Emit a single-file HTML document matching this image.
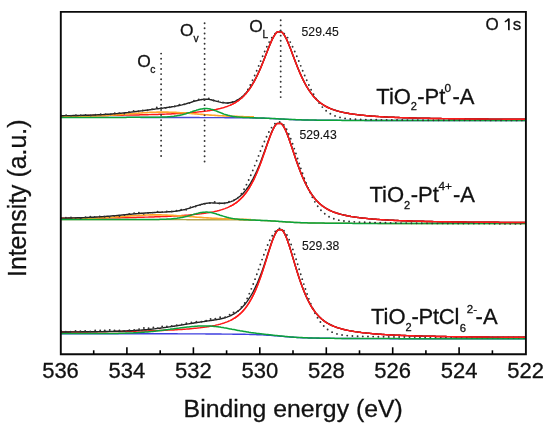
<!DOCTYPE html>
<html><head><meta charset="utf-8"><style>
html,body{margin:0;padding:0;background:#fff;overflow:hidden;}
svg{display:block;will-change:transform;font-family:"Liberation Sans",sans-serif;}
text{fill:#111;stroke:#111;stroke-width:0.3px;}
</style></head><body>
<svg width="550" height="428" viewBox="0 0 550 428">
<path d="M61,117.4 L62,117.4 L63,117.4 L64,117.4 L65,117.4 L66,117.4 L67,117.4 L68,117.4 L69,117.4 L70,117.4 L71,117.4 L72,117.4 L73,117.4 L74,117.4 L75,117.4 L76,117.4 L77,117.4 L78,117.4 L79,117.4 L80,117.4 L81,117.4 L82,117.4 L83,117.4 L84,117.4 L85,117.4 L86,117.4 L87,117.4 L88,117.4 L89,117.4 L90,117.4 L91,117.4 L92,117.4 L93,117.4 L94,117.4 L95,117.4 L96,117.4 L97,117.4 L98,117.4 L99,117.4 L100,117.4 L101,117.4 L102,117.4 L103,117.4 L104,117.4 L105,117.4 L106,117.4 L107,117.4 L108,117.4 L109,117.4 L110,117.4 L111,117.4 L112,117.4 L113,117.4 L114,117.4 L115,117.4 L116,117.4 L117,117.4 L118,117.4 L119,117.4 L120,117.4 L121,117.4 L122,117.4 L123,117.4 L124,117.4 L125,117.4 L126,117.4 L127,117.4 L128,117.4 L129,117.4 L130,117.4 L131,117.4 L132,117.4 L133,117.4 L134,117.4 L135,117.4 L136,117.4 L137,117.4 L138,117.4 L139,117.4 L140,117.4 L141,117.5 L142,117.5 L143,117.5 L144,117.5 L145,117.5 L146,117.5 L147,117.5 L148,117.5 L149,117.5 L150,117.5 L151,117.5 L152,117.5 L153,117.5 L154,117.5 L155,117.5 L156,117.5 L157,117.5 L158,117.5 L159,117.5 L160,117.5 L161,117.5 L162,117.5 L163,117.5 L164,117.5 L165,117.5 L166,117.5 L167,117.5 L168,117.5 L169,117.5 L170,117.5 L171,117.5 L172,117.5 L173,117.5 L174,117.5 L175,117.5 L176,117.5 L177,117.5 L178,117.5 L179,117.5 L180,117.5 L181,117.5 L182,117.5 L183,117.5 L184,117.5 L185,117.5 L186,117.5 L187,117.5 L188,117.5 L189,117.5 L190,117.5 L191,117.5 L192,117.5 L193,117.5 L194,117.5 L195,117.5 L196,117.5 L197,117.5 L198,117.5 L199,117.5 L200,117.6 L201,117.6 L202,117.6 L203,117.6 L204,117.6 L205,117.6 L206,117.6 L207,117.6 L208,117.6 L209,117.6 L210,117.6 L211,117.6 L212,117.6 L213,117.6 L214,117.6 L215,117.6 L216,117.6 L217,117.6 L218,117.6 L219,117.6 L220,117.6 L221,117.6 L222,117.6 L223,117.6 L224,117.6 L225,117.7 L226,117.7 L227,117.7 L228,117.7 L229,117.7 L230,117.7 L231,117.7 L232,117.7 L233,117.7 L234,117.7 L235,117.7 L236,117.7 L237,117.7 L238,117.7 L239,117.8 L240,117.8 L241,117.8 L242,117.8 L243,117.8 L244,117.8 L245,117.8 L246,117.8 L247,117.9 L248,117.9 L249,117.9 L250,117.9 L251,117.9 L252,117.9 L253,118.0 L254,118.0 L255,118.0 L256,118.0 L257,118.0 L258,118.1 L259,118.1 L260,118.1 L261,118.2 L262,118.2 L263,118.2 L264,118.3 L265,118.3 L266,118.3 L267,118.4 L268,118.4 L269,118.4 L270,118.5 L271,118.5 L272,118.6 L273,118.6 L274,118.7 L275,118.7 L276,118.8 L277,118.8 L278,118.9 L279,118.9 L280,119.0 L281,119.0 L282,119.1 L283,119.1 L284,119.2 L285,119.3 L286,119.3 L287,119.4 L288,119.4 L289,119.4 L290,119.5 L291,119.5 L292,119.6 L293,119.6 L294,119.7 L295,119.7 L296,119.7 L297,119.8 L298,119.8 L299,119.8 L300,119.9 L301,119.9 L302,119.9 L303,119.9 L304,120.0 L305,120.0 L306,120.0 L307,120.0 L308,120.0 L309,120.1 L310,120.1 L311,120.1 L312,120.1 L313,120.1 L314,120.1 L315,120.2 L316,120.2 L317,120.2 L318,120.2 L319,120.2 L320,120.2 L321,120.2 L322,120.2 L323,120.2 L324,120.3 L325,120.3 L326,120.3 L327,120.3 L328,120.3 L329,120.3 L330,120.3 L331,120.3 L332,120.3 L333,120.3 L334,120.3 L335,120.3 L336,120.3 L337,120.3 L338,120.4 L339,120.4 L340,120.4 L341,120.4 L342,120.4 L343,120.4 L344,120.4 L345,120.4 L346,120.4 L347,120.4 L348,120.4 L349,120.4 L350,120.4 L351,120.4 L352,120.4 L353,120.4 L354,120.4 L355,120.4 L356,120.4 L357,120.4 L358,120.4 L359,120.4 L360,120.4 L361,120.4 L362,120.4 L363,120.4 L364,120.4 L365,120.5 L366,120.5 L367,120.5 L368,120.5 L369,120.5 L370,120.5 L371,120.5 L372,120.5 L373,120.5 L374,120.5 L375,120.5 L376,120.5 L377,120.5 L378,120.5 L379,120.5 L380,120.5 L381,120.5 L382,120.5 L383,120.5 L384,120.5 L385,120.5 L386,120.5 L387,120.5 L388,120.5 L389,120.5 L390,120.5 L391,120.5 L392,120.5 L393,120.5 L394,120.5 L395,120.5 L396,120.5 L397,120.5 L398,120.5 L399,120.5 L400,120.5 L401,120.5 L402,120.5 L403,120.5 L404,120.5 L405,120.5 L406,120.5 L407,120.5 L408,120.5 L409,120.5 L410,120.5 L411,120.5 L412,120.5 L413,120.5 L414,120.5 L415,120.5 L416,120.5 L417,120.5 L418,120.5 L419,120.5 L420,120.5 L421,120.5 L422,120.5 L423,120.5 L424,120.5 L425,120.5 L426,120.5 L427,120.5 L428,120.5 L429,120.5 L430,120.5 L431,120.6 L432,120.6 L433,120.6 L434,120.6 L435,120.6 L436,120.6 L437,120.6 L438,120.6 L439,120.6 L440,120.6 L441,120.6 L442,120.6 L443,120.6 L444,120.6 L445,120.6 L446,120.6 L447,120.6 L448,120.6 L449,120.6 L450,120.6 L451,120.6 L452,120.6 L453,120.6 L454,120.6 L455,120.6 L456,120.6 L457,120.6 L458,120.6 L459,120.6 L460,120.6 L461,120.6 L462,120.6 L463,120.6 L464,120.6 L465,120.6 L466,120.6 L467,120.6 L468,120.6 L469,120.6 L470,120.6 L471,120.6 L472,120.6 L473,120.6 L474,120.6 L475,120.6 L476,120.6 L477,120.6 L478,120.6 L479,120.6 L480,120.6 L481,120.6 L482,120.6 L483,120.6 L484,120.6 L485,120.6 L486,120.6 L487,120.6 L488,120.6 L489,120.6 L490,120.6 L491,120.6 L492,120.6 L493,120.6 L494,120.6 L495,120.6 L496,120.6 L497,120.6 L498,120.6 L499,120.6 L500,120.6 L501,120.6 L502,120.6 L503,120.6 L504,120.6 L505,120.6 L506,120.6 L507,120.6 L508,120.6 L509,120.6 L510,120.6 L511,120.6 L512,120.6 L513,120.6 L514,120.6 L515,120.6 L516,120.6 L517,120.6 L518,120.6 L519,120.6 L520,120.6 L521,120.6 L522,120.6 L523,120.6 L524,120.6 L525,120.6" stroke="#4b4bd6" stroke-width="1.4" fill="none"/>
<path d="M61,115.7 L62,115.7 L63,115.7 L64,115.7 L65,115.7 L66,115.7 L67,115.7 L68,115.7 L69,115.7 L70,115.7 L71,115.7 L72,115.7 L73,115.7 L74,115.7 L75,115.6 L76,115.6 L77,115.6 L78,115.6 L79,115.6 L80,115.6 L81,115.6 L82,115.6 L83,115.6 L84,115.6 L85,115.6 L86,115.6 L87,115.6 L88,115.5 L89,115.5 L90,115.5 L91,115.5 L92,115.5 L93,115.5 L94,115.5 L95,115.5 L96,115.5 L97,115.5 L98,115.5 L99,115.4 L100,115.4 L101,115.4 L102,115.4 L103,115.4 L104,115.4 L105,115.4 L106,115.4 L107,115.4 L108,115.4 L109,115.3 L110,115.3 L111,115.3 L112,115.3 L113,115.3 L114,115.3 L115,115.3 L116,115.3 L117,115.2 L118,115.2 L119,115.2 L120,115.2 L121,115.2 L122,115.2 L123,115.2 L124,115.1 L125,115.1 L126,115.1 L127,115.1 L128,115.1 L129,115.1 L130,115.0 L131,115.0 L132,115.0 L133,115.0 L134,115.0 L135,114.9 L136,114.9 L137,114.9 L138,114.9 L139,114.9 L140,114.8 L141,114.8 L142,114.8 L143,114.8 L144,114.8 L145,114.7 L146,114.7 L147,114.7 L148,114.7 L149,114.6 L150,114.6 L151,114.6 L152,114.5 L153,114.5 L154,114.5 L155,114.5 L156,114.4 L157,114.4 L158,114.4 L159,114.3 L160,114.3 L161,114.3 L162,114.2 L163,114.2 L164,114.2 L165,114.1 L166,114.1 L167,114.0 L168,114.0 L169,114.0 L170,113.9 L171,113.9 L172,113.8 L173,113.8 L174,113.7 L175,113.7 L176,113.6 L177,113.6 L178,113.5 L179,113.5 L180,113.4 L181,113.4 L182,113.3 L183,113.2 L184,113.2 L185,113.1 L186,113.0 L187,113.0 L188,112.9 L189,112.8 L190,112.7 L191,112.7 L192,112.6 L193,112.5 L194,112.4 L195,112.3 L196,112.2 L197,112.1 L198,112.0 L199,111.9 L200,111.8 L201,111.7 L202,111.6 L203,111.5 L204,111.4 L205,111.2 L206,111.1 L207,111.0 L208,110.8 L209,110.7 L210,110.5 L211,110.4 L212,110.2 L213,110.0 L214,109.8 L215,109.7 L216,109.5 L217,109.2 L218,109.0 L219,108.8 L220,108.6 L221,108.3 L222,108.0 L223,107.8 L224,107.5 L225,107.1 L226,106.8 L227,106.5 L228,106.1 L229,105.7 L230,105.3 L231,104.8 L232,104.4 L233,103.9 L234,103.3 L235,102.8 L236,102.2 L237,101.5 L238,100.8 L239,100.1 L240,99.3 L241,98.5 L242,97.6 L243,96.7 L244,95.7 L245,94.6 L246,93.5 L247,92.3 L248,91.0 L249,89.7 L250,88.3 L251,86.8 L252,85.2 L253,83.5 L254,81.8 L255,79.9 L256,78.0 L257,76.0 L258,73.9 L259,71.7 L260,69.5 L261,67.1 L262,64.7 L263,62.2 L264,59.7 L265,57.2 L266,54.6 L267,52.0 L268,49.4 L269,46.9 L270,44.5 L271,42.1 L272,39.9 L273,37.9 L274,36.1 L275,34.5 L276,33.2 L277,32.2 L278,31.8 L279,31.8 L280,31.8 L281,31.8 L282,32.3 L283,33.4 L284,34.7 L285,36.4 L286,38.2 L287,40.3 L288,42.6 L289,45.0 L290,47.5 L291,50.1 L292,52.8 L293,55.4 L294,58.1 L295,60.7 L296,63.3 L297,65.9 L298,68.4 L299,70.8 L300,73.1 L301,75.4 L302,77.6 L303,79.6 L304,81.6 L305,83.5 L306,85.3 L307,87.1 L308,88.7 L309,90.3 L310,91.7 L311,93.1 L312,94.4 L313,95.7 L314,96.9 L315,98.0 L316,99.0 L317,100.0 L318,100.9 L319,101.7 L320,102.6 L321,103.3 L322,104.0 L323,104.7 L324,105.3 L325,105.9 L326,106.5 L327,107.0 L328,107.5 L329,108.0 L330,108.4 L331,108.8 L332,109.2 L333,109.6 L334,109.9 L335,110.2 L336,110.6 L337,110.9 L338,111.1 L339,111.4 L340,111.7 L341,111.9 L342,112.1 L343,112.4 L344,112.6 L345,112.8 L346,113.0 L347,113.1 L348,113.3 L349,113.5 L350,113.7 L351,113.8 L352,114.0 L353,114.1 L354,114.2 L355,114.4 L356,114.5 L357,114.6 L358,114.8 L359,114.9 L360,115.0 L361,115.1 L362,115.2 L363,115.3 L364,115.4 L365,115.5 L366,115.6 L367,115.7 L368,115.8 L369,115.9 L370,115.9 L371,116.0 L372,116.1 L373,116.2 L374,116.2 L375,116.3 L376,116.4 L377,116.4 L378,116.5 L379,116.6 L380,116.6 L381,116.7 L382,116.7 L383,116.8 L384,116.9 L385,116.9 L386,117.0 L387,117.0 L388,117.1 L389,117.1 L390,117.2 L391,117.2 L392,117.2 L393,117.3 L394,117.3 L395,117.4 L396,117.4 L397,117.5 L398,117.5 L399,117.5 L400,117.6 L401,117.6 L402,117.6 L403,117.7 L404,117.7 L405,117.7 L406,117.8 L407,117.8 L408,117.8 L409,117.9 L410,117.9 L411,117.9 L412,117.9 L413,118.0 L414,118.0 L415,118.0 L416,118.0 L417,118.1 L418,118.1 L419,118.1 L420,118.1 L421,118.2 L422,118.2 L423,118.2 L424,118.2 L425,118.3 L426,118.3 L427,118.3 L428,118.3 L429,118.3 L430,118.4 L431,118.4 L432,118.4 L433,118.4 L434,118.4 L435,118.4 L436,118.5 L437,118.5 L438,118.5 L439,118.5 L440,118.5 L441,118.5 L442,118.6 L443,118.6 L444,118.6 L445,118.6 L446,118.6 L447,118.6 L448,118.6 L449,118.7 L450,118.7 L451,118.7 L452,118.7 L453,118.7 L454,118.7 L455,118.7 L456,118.7 L457,118.8 L458,118.8 L459,118.8 L460,118.8 L461,118.8 L462,118.8 L463,118.8 L464,118.8 L465,118.9 L466,118.9 L467,118.9 L468,118.9 L469,118.9 L470,118.9 L471,118.9 L472,118.9 L473,118.9 L474,118.9 L475,118.9 L476,119.0 L477,119.0 L478,119.0 L479,119.0 L480,119.0 L481,119.0 L482,119.0 L483,119.0 L484,119.0 L485,119.0 L486,119.0 L487,119.0 L488,119.1 L489,119.1 L490,119.1 L491,119.1 L492,119.1 L493,119.1 L494,119.1 L495,119.1 L496,119.1 L497,119.1 L498,119.1 L499,119.1 L500,119.1 L501,119.1 L502,119.1 L503,119.2 L504,119.2 L505,119.2 L506,119.2 L507,119.2 L508,119.2 L509,119.2 L510,119.2 L511,119.2 L512,119.2 L513,119.2 L514,119.2 L515,119.2 L516,119.2 L517,119.2 L518,119.2 L519,119.2 L520,119.2 L521,119.3 L522,119.3 L523,119.3 L524,119.3 L525,119.3" stroke="#ff1a1a" stroke-width="1.45" fill="none"/>
<path d="M61,116.4 L62,116.4 L63,116.4 L64,116.4 L65,116.4 L66,116.4 L67,116.3 L68,116.3 L69,116.3 L70,116.3 L71,116.3 L72,116.3 L73,116.3 L74,116.3 L75,116.3 L76,116.3 L77,116.3 L78,116.3 L79,116.3 L80,116.2 L81,116.2 L82,116.2 L83,116.2 L84,116.2 L85,116.2 L86,116.2 L87,116.1 L88,116.1 L89,116.1 L90,116.1 L91,116.0 L92,116.0 L93,116.0 L94,116.0 L95,115.9 L96,115.9 L97,115.9 L98,115.8 L99,115.8 L100,115.8 L101,115.7 L102,115.7 L103,115.6 L104,115.6 L105,115.5 L106,115.5 L107,115.4 L108,115.4 L109,115.3 L110,115.3 L111,115.2 L112,115.2 L113,115.1 L114,115.0 L115,115.0 L116,114.9 L117,114.8 L118,114.8 L119,114.7 L120,114.6 L121,114.5 L122,114.5 L123,114.4 L124,114.3 L125,114.2 L126,114.2 L127,114.1 L128,114.0 L129,113.9 L130,113.8 L131,113.8 L132,113.7 L133,113.6 L134,113.5 L135,113.4 L136,113.3 L137,113.3 L138,113.2 L139,113.1 L140,113.0 L141,113.0 L142,112.9 L143,112.8 L144,112.8 L145,112.7 L146,112.6 L147,112.6 L148,112.5 L149,112.5 L150,112.4 L151,112.4 L152,112.3 L153,112.3 L154,112.2 L155,112.2 L156,112.2 L157,112.1 L158,112.1 L159,112.1 L160,112.1 L161,112.1 L162,112.1 L163,112.1 L164,112.1 L165,112.1 L166,112.1 L167,112.1 L168,112.1 L169,112.2 L170,112.2 L171,112.2 L172,112.3 L173,112.3 L174,112.3 L175,112.4 L176,112.4 L177,112.5 L178,112.6 L179,112.6 L180,112.7 L181,112.7 L182,112.8 L183,112.9 L184,113.0 L185,113.0 L186,113.1 L187,113.2 L188,113.3 L189,113.3 L190,113.4 L191,113.5 L192,113.6 L193,113.7 L194,113.8 L195,113.9 L196,113.9 L197,114.0 L198,114.1 L199,114.2 L200,114.3 L201,114.4 L202,114.4 L203,114.5 L204,114.6 L205,114.7 L206,114.8 L207,114.8 L208,114.9 L209,115.0 L210,115.1 L211,115.1 L212,115.2 L213,115.3 L214,115.3 L215,115.4 L216,115.5 L217,115.5 L218,115.6 L219,115.7 L220,115.7 L221,115.8 L222,115.8 L223,115.9 L224,115.9 L225,116.0 L226,116.0 L227,116.1 L228,116.1 L229,116.2 L230,116.2 L231,116.2 L232,116.3 L233,116.3 L234,116.3 L235,116.4 L236,116.4 L237,116.4 L238,116.5 L239,116.5 L240,116.5 L241,116.6 L242,116.6 L243,116.6 L244,116.7 L245,116.7 L246,116.7 L247,116.7 L248,116.8 L249,116.8 L250,116.8 L251,116.8 L252,116.9 L253,116.9 L254,116.9" stroke="#ffa62b" stroke-width="1.6" fill="none"/>
<path d="M61,117.4 L62,117.4 L63,117.4 L64,117.4 L65,117.4 L66,117.4 L67,117.4 L68,117.4 L69,117.4 L70,117.4 L71,117.4 L72,117.4 L73,117.4 L74,117.4 L75,117.4 L76,117.4 L77,117.4 L78,117.4 L79,117.4 L80,117.4 L81,117.4 L82,117.4 L83,117.4 L84,117.4 L85,117.4 L86,117.4 L87,117.4 L88,117.4 L89,117.4 L90,117.4 L91,117.4 L92,117.4 L93,117.4 L94,117.4 L95,117.4 L96,117.4 L97,117.4 L98,117.4 L99,117.4 L100,117.4 L101,117.4 L102,117.4 L103,117.4 L104,117.4 L105,117.4 L106,117.4 L107,117.4 L108,117.4 L109,117.4 L110,117.4 L111,117.4 L112,117.4 L113,117.4 L114,117.4 L115,117.4 L116,117.4 L117,117.4 L118,117.4 L119,117.4 L120,117.4 L121,117.4 L122,117.4 L123,117.4 L124,117.4 L125,117.4 L126,117.4 L127,117.3 L128,117.3 L129,117.3 L130,117.3 L131,117.3 L132,117.3 L133,117.3 L134,117.3 L135,117.3 L136,117.3 L137,117.3 L138,117.3 L139,117.3 L140,117.3 L141,117.3 L142,117.3 L143,117.3 L144,117.3 L145,117.3 L146,117.3 L147,117.3 L148,117.3 L149,117.3 L150,117.3 L151,117.3 L152,117.3 L153,117.3 L154,117.3 L155,117.2 L156,117.2 L157,117.2 L158,117.2 L159,117.2 L160,117.2 L161,117.1 L162,117.1 L163,117.1 L164,117.0 L165,117.0 L166,116.9 L167,116.9 L168,116.8 L169,116.8 L170,116.7 L171,116.6 L172,116.5 L173,116.4 L174,116.3 L175,116.1 L176,116.0 L177,115.8 L178,115.6 L179,115.4 L180,115.2 L181,115.0 L182,114.8 L183,114.5 L184,114.2 L185,113.9 L186,113.7 L187,113.3 L188,113.0 L189,112.7 L190,112.4 L191,112.0 L192,111.7 L193,111.3 L194,111.0 L195,110.7 L196,110.4 L197,110.0 L198,109.8 L199,109.5 L200,109.3 L201,109.1 L202,108.9 L203,108.7 L204,108.6 L205,108.6 L206,108.6 L207,108.6 L208,108.7 L209,108.8 L210,109.0 L211,109.3 L212,109.5 L213,109.8 L214,110.2 L215,110.6 L216,110.9 L217,111.3 L218,111.7 L219,112.1 L220,112.5 L221,112.9 L222,113.3 L223,113.7 L224,114.1 L225,114.4 L226,114.7 L227,115.0 L228,115.3 L229,115.5 L230,115.8 L231,116.0 L232,116.2 L233,116.4 L234,116.5 L235,116.7 L236,116.8 L237,116.9 L238,117.0 L239,117.1 L240,117.2 L241,117.3 L242,117.3 L243,117.4 L244,117.4 L245,117.5 L246,117.5 L247,117.6 L248,117.6 L249,117.6 L250,117.7 L251,117.7 L252,117.7 L253,117.8 L254,117.8 L255,117.8 L256,117.9 L257,117.9 L258,117.9 L259,118.0 L260,118.0 L261,118.0 L262,118.1 L263,118.1 L264,118.1 L265,118.2 L266,118.2 L267,118.3 L268,118.3 L269,118.3 L270,118.4 L271,118.4 L272,118.5 L273,118.5 L274,118.6 L275,118.6 L276,118.7 L277,118.7 L278,118.8 L279,118.9 L280,118.9 L281,119.0 L282,119.0 L283,119.1 L284,119.1 L285,119.2 L286,119.2 L287,119.3 L288,119.3 L289,119.4 L290,119.4 L291,119.5 L292,119.5 L293,119.6 L294,119.6 L295,119.6 L296,119.7 L297,119.7 L298,119.7 L299,119.8 L300,119.8 L301,119.8 L302,119.9 L303,119.9 L304,119.9 L305,119.9 L306,120.0 L307,120.0 L308,120.0 L309,120.0 L310,120.0 L311,120.1 L312,120.1 L313,120.1 L314,120.1 L315,120.1 L316,120.1 L317,120.2 L318,120.2 L319,120.2 L320,120.2 L321,120.2 L322,120.2 L323,120.2 L324,120.2 L325,120.2 L326,120.2 L327,120.3 L328,120.3 L329,120.3 L330,120.3 L331,120.3 L332,120.3 L333,120.3 L334,120.3 L335,120.3 L336,120.3 L337,120.3 L338,120.3 L339,120.3 L340,120.3 L341,120.3 L342,120.4 L343,120.4 L344,120.4 L345,120.4 L346,120.4 L347,120.4 L348,120.4 L349,120.4 L350,120.4 L351,120.4 L352,120.4 L353,120.4 L354,120.4 L355,120.4 L356,120.4 L357,120.4 L358,120.4 L359,120.4 L360,120.4 L361,120.4 L362,120.4 L363,120.4 L364,120.4 L365,120.4 L366,120.4 L367,120.4 L368,120.4 L369,120.4 L370,120.4 L371,120.5 L372,120.5 L373,120.5 L374,120.5 L375,120.5 L376,120.5 L377,120.5 L378,120.5 L379,120.5 L380,120.5 L381,120.5 L382,120.5 L383,120.5 L384,120.5 L385,120.5 L386,120.5 L387,120.5 L388,120.5 L389,120.5 L390,120.5 L391,120.5 L392,120.5 L393,120.5 L394,120.5 L395,120.5 L396,120.5 L397,120.5 L398,120.5 L399,120.5 L400,120.5 L401,120.5 L402,120.5 L403,120.5 L404,120.5 L405,120.5 L406,120.5 L407,120.5 L408,120.5 L409,120.5 L410,120.5 L411,120.5 L412,120.5 L413,120.5 L414,120.5 L415,120.5 L416,120.5 L417,120.5 L418,120.5 L419,120.5 L420,120.5 L421,120.5 L422,120.5 L423,120.5 L424,120.5 L425,120.5 L426,120.5 L427,120.5 L428,120.5 L429,120.5 L430,120.5 L431,120.5 L432,120.5 L433,120.5 L434,120.5 L435,120.5 L436,120.5 L437,120.5 L438,120.5 L439,120.5 L440,120.5 L441,120.6 L442,120.6 L443,120.6 L444,120.6 L445,120.6 L446,120.6 L447,120.6 L448,120.6 L449,120.6 L450,120.6 L451,120.6 L452,120.6 L453,120.6 L454,120.6 L455,120.6 L456,120.6 L457,120.6 L458,120.6 L459,120.6 L460,120.6 L461,120.6 L462,120.6 L463,120.6 L464,120.6 L465,120.6 L466,120.6 L467,120.6 L468,120.6 L469,120.6 L470,120.6 L471,120.6 L472,120.6 L473,120.6 L474,120.6 L475,120.6 L476,120.6 L477,120.6 L478,120.6 L479,120.6 L480,120.6 L481,120.6 L482,120.6 L483,120.6 L484,120.6 L485,120.6 L486,120.6 L487,120.6 L488,120.6 L489,120.6 L490,120.6 L491,120.6 L492,120.6 L493,120.6 L494,120.6 L495,120.6 L496,120.6 L497,120.6 L498,120.6 L499,120.6 L500,120.6 L501,120.6 L502,120.6 L503,120.6 L504,120.6 L505,120.6 L506,120.6 L507,120.6 L508,120.6 L509,120.6 L510,120.6 L511,120.6 L512,120.6 L513,120.6 L514,120.6 L515,120.6 L516,120.6 L517,120.6 L518,120.6 L519,120.6 L520,120.6 L521,120.6 L522,120.6 L523,120.6 L524,120.6 L525,120.6" stroke="#0ba33a" stroke-width="1.5" fill="none"/>
<path d="M61,115.7 L62,115.7 L63,115.7 L64,115.6 L65,115.6 L66,115.6 L67,115.6 L68,115.6 L69,115.6 L70,115.6 L71,115.6 L72,115.6 L73,115.5 L74,115.5 L75,115.5 L76,115.5 L77,115.5 L78,115.5 L79,115.4 L80,115.4 L81,115.4 L82,115.4 L83,115.3 L84,115.3 L85,115.3 L86,115.3 L87,115.2 L88,115.2 L89,115.2 L90,115.1 L91,115.1 L92,115.1 L93,115.0 L94,115.0 L95,115.0 L96,114.9 L97,114.9 L98,114.8 L99,114.8 L100,114.7 L101,114.7 L102,114.6 L103,114.6 L104,114.5 L105,114.5 L106,114.4 L107,114.3 L108,114.3 L109,114.2 L110,114.1 L111,114.0 L112,114.0 L113,113.9 L114,113.8 L115,113.7 L116,113.6 L117,113.6 L118,113.5 L119,113.4 L120,113.3 L121,113.2 L122,113.1 L123,113.0 L124,112.9 L125,112.8 L126,112.7 L127,112.6 L128,112.5 L129,112.3 L130,112.2 L131,112.1 L132,112.0 L133,111.9 L134,111.8 L135,111.6 L136,111.5 L137,111.4 L138,111.3 L139,111.1 L140,111.0 L141,110.9 L142,110.8 L143,110.6 L144,110.5 L145,110.4 L146,110.2 L147,110.1 L148,110.0 L149,109.9 L150,109.7 L151,109.6 L152,109.5 L153,109.3 L154,109.2 L155,109.1 L156,108.9 L157,108.8 L158,108.7 L159,108.6 L160,108.4 L161,108.3 L162,108.2 L163,108.1 L164,107.9 L165,107.8 L166,107.7 L167,107.5 L168,107.4 L169,107.2 L170,107.1 L171,107.0 L172,106.8 L173,106.6 L174,106.5 L175,106.3 L176,106.1 L177,105.9 L178,105.7 L179,105.5 L180,105.3 L181,105.1 L182,104.9 L183,104.6 L184,104.3 L185,104.1 L186,103.8 L187,103.5 L188,103.2 L189,102.9 L190,102.6 L191,102.3 L192,102.0 L193,101.7 L194,101.4 L195,101.1 L196,100.8 L197,100.6 L198,100.3 L199,100.1 L200,99.9 L201,99.7 L202,99.5 L203,99.4 L204,99.3 L205,99.3 L206,99.2 L207,99.3 L208,99.3 L209,99.4 L210,99.6 L211,99.8 L212,100.0 L213,100.3 L214,100.5 L215,100.8 L216,101.1 L217,101.4 L218,101.6 L219,101.9 L220,102.1 L221,102.4 L222,102.6 L223,102.7 L224,102.8 L225,102.9 L226,103.0 L227,103.0 L228,102.9 L229,102.8 L230,102.7 L231,102.5 L232,102.3 L233,102.0 L234,101.7 L235,101.3 L236,100.8 L237,100.3 L238,99.7 L239,99.1 L240,98.4 L241,97.7 L242,96.9 L243,96.0 L244,95.1 L245,94.1 L246,93.0 L247,91.8 L248,90.6 L249,89.3 L250,87.9 L251,86.4 L252,84.9 L253,83.2 L254,81.5 L255,79.7 L256,77.8 L257,75.8 L258,73.7 L259,71.5 L260,69.3 L261,66.9 L262,64.5 L263,62.1 L264,59.6 L265,57.0 L266,54.4 L267,51.9 L268,49.3 L269,46.8 L270,44.4 L271,42.0 L272,39.8 L273,37.8 L274,36.0 L275,34.4 L276,33.1 L277,32.1 L278,31.7 L279,31.7 L280,31.7 L281,31.7 L282,32.3 L283,33.3 L284,34.7 L285,36.3 L286,38.2 L287,40.3 L288,42.5 L289,45.0 L290,47.5 L291,50.1 L292,52.7 L293,55.4 L294,58.0 L295,60.7 L296,63.3 L297,65.8 L298,68.3 L299,70.7 L300,73.1 L301,75.3 L302,77.5 L303,79.6 L304,81.6 L305,83.5 L306,85.3 L307,87.0 L308,88.7 L309,90.2 L310,91.7 L311,93.1 L312,94.4 L313,95.6 L314,96.8 L315,97.9 L316,99.0 L317,99.9 L318,100.8 L319,101.7 L320,102.5 L321,103.3 L322,104.0 L323,104.7 L324,105.3 L325,105.9 L326,106.5 L327,107.0 L328,107.5 L329,107.9 L330,108.4 L331,108.8 L332,109.2 L333,109.5 L334,109.9 L335,110.2 L336,110.5 L337,110.8 L338,111.1 L339,111.4 L340,111.6 L341,111.9 L342,112.1 L343,112.3 L344,112.5 L345,112.7 L346,112.9 L347,113.1 L348,113.3 L349,113.5 L350,113.6 L351,113.8 L352,113.9 L353,114.1 L354,114.2 L355,114.4 L356,114.5 L357,114.6 L358,114.7 L359,114.9 L360,115.0 L361,115.1 L362,115.2 L363,115.3 L364,115.4 L365,115.5 L366,115.6 L367,115.7 L368,115.8 L369,115.8 L370,115.9 L371,116.0 L372,116.1 L373,116.2 L374,116.2 L375,116.3 L376,116.4 L377,116.4 L378,116.5 L379,116.6 L380,116.6 L381,116.7 L382,116.7 L383,116.8 L384,116.8 L385,116.9 L386,117.0 L387,117.0 L388,117.1 L389,117.1 L390,117.1 L391,117.2 L392,117.2 L393,117.3 L394,117.3 L395,117.4 L396,117.4 L397,117.4 L398,117.5 L399,117.5 L400,117.6 L401,117.6 L402,117.6 L403,117.7 L404,117.7 L405,117.7 L406,117.8 L407,117.8 L408,117.8 L409,117.8 L410,117.9 L411,117.9 L412,117.9 L413,118.0 L414,118.0 L415,118.0 L416,118.0 L417,118.1 L418,118.1 L419,118.1 L420,118.1 L421,118.2 L422,118.2 L423,118.2 L424,118.2 L425,118.2 L426,118.3 L427,118.3 L428,118.3 L429,118.3 L430,118.3 L431,118.4 L432,118.4 L433,118.4 L434,118.4 L435,118.4 L436,118.5 L437,118.5 L438,118.5 L439,118.5 L440,118.5 L441,118.5 L442,118.6 L443,118.6 L444,118.6 L445,118.6 L446,118.6 L447,118.6 L448,118.6 L449,118.7 L450,118.7 L451,118.7 L452,118.7 L453,118.7 L454,118.7 L455,118.7 L456,118.7 L457,118.8 L458,118.8 L459,118.8 L460,118.8 L461,118.8 L462,118.8 L463,118.8 L464,118.8 L465,118.8 L466,118.9 L467,118.9 L468,118.9 L469,118.9 L470,118.9 L471,118.9 L472,118.9 L473,118.9 L474,118.9 L475,118.9 L476,118.9 L477,119.0 L478,119.0 L479,119.0 L480,119.0 L481,119.0 L482,119.0 L483,119.0 L484,119.0 L485,119.0 L486,119.0 L487,119.0 L488,119.0 L489,119.1 L490,119.1 L491,119.1 L492,119.1 L493,119.1 L494,119.1 L495,119.1 L496,119.1 L497,119.1 L498,119.1 L499,119.1 L500,119.1 L501,119.1 L502,119.1 L503,119.1 L504,119.2 L505,119.2 L506,119.2 L507,119.2 L508,119.2 L509,119.2 L510,119.2 L511,119.2 L512,119.2 L513,119.2 L514,119.2 L515,119.2 L516,119.2 L517,119.2 L518,119.2 L519,119.2 L520,119.2 L521,119.2 L522,119.3 L523,119.3 L524,119.3 L525,119.3" stroke="#222" stroke-width="1.4" fill="none"/>
<path d="M61,115.5 L62,115.5 L63,115.3 L64,115.4 L65,115.1 L66,115.1 L67,115.7 L68,115.7 L69,115.9 L70,115.4 L71,115.6 L72,115.3 L73,114.9 L74,115.3 L75,115.5 L76,115.2 L77,114.9 L78,114.8 L79,115.1 L80,114.8 L81,115.4 L82,116.1 L83,116.0 L84,115.7 L85,115.1 L86,114.9 L87,115.0 L88,115.2 L89,115.3 L90,115.4 L91,115.4 L92,115.8 L93,115.6 L94,115.2 L95,114.7 L96,114.7 L97,114.4 L98,114.1 L99,113.8 L100,114.1 L101,114.3 L102,114.4 L103,114.8 L104,114.7 L105,114.6 L106,113.9 L107,114.3 L108,114.9 L109,114.8 L110,114.5 L111,114.1 L112,113.8 L113,113.1 L114,112.4 L115,113.4 L116,114.0 L117,114.4 L118,113.5 L119,113.2 L120,113.6 L121,113.3 L122,113.4 L123,113.5 L124,113.5 L125,113.3 L126,112.4 L127,112.1 L128,111.9 L129,112.3 L130,112.4 L131,112.4 L132,111.5 L133,110.8 L134,111.0 L135,110.8 L136,111.2 L137,110.6 L138,111.4 L139,111.0 L140,111.3 L141,110.1 L142,110.6 L143,110.5 L144,111.1 L145,110.8 L146,110.4 L147,110.5 L148,110.1 L149,110.7 L150,110.1 L151,110.1 L152,109.1 L153,109.1 L154,108.8 L155,108.6 L156,107.9 L157,107.4 L158,106.9 L159,107.4 L160,108.4 L161,108.2 L162,108.0 L163,106.9 L164,107.5 L165,107.3 L166,108.5 L167,108.0 L168,108.3 L169,107.2 L170,107.2 L171,106.9 L172,106.5 L173,106.7 L174,106.2 L175,106.5 L176,106.3 L177,105.7 L178,105.1 L179,104.7 L180,104.9 L181,105.0 L182,104.9 L183,104.7 L184,104.5 L185,104.2 L186,103.8 L187,103.5 L188,103.2 L189,103.3 L190,102.6 L191,102.2 L192,101.5 L193,101.4 L194,100.6 L195,100.6 L196,100.2 L197,100.4 L198,99.6 L199,99.5 L200,99.5 L201,99.9 L202,99.7 L203,99.7 L204,99.5 L205,99.4 L206,99.2 L207,98.6 L208,98.4 L209,98.6 L210,99.3 L211,99.8 L212,100.0 L213,100.5 L214,100.5 L215,100.9 L216,100.2 L217,100.6 L218,100.9 L219,101.7 L220,101.9 L221,102.5 L222,102.3 L223,102.4 L224,102.0 L225,102.2 L226,102.9 L227,102.9 L228,103.2 L229,103.0 L230,103.2 L231,103.0 L232,102.5 L233,101.7 L234,101.3 L235,101.1 L236,101.0 L237,100.2 L238,99.6 L239,98.6 L240,98.1 L241,98.0 L242,97.2 L243,96.9 L244,95.1 L245,94.6 L246,93.0 L247,91.2 L248,89.4 L249,87.6 L250,85.6 L251,83.5 L252,81.4 L253,79.2 L254,77.0 L255,74.7 L256,72.3 L257,70.0 L258,67.6 L259,65.1 L260,62.7 L261,60.3 L262,57.8 L263,55.5 L264,53.1 L265,50.8 L266,48.6 L267,46.4 L268,44.4 L269,42.4 L270,40.6 L271,38.9 L272,37.4 L273,36.0 L274,34.8 L275,33.7 L276,32.9 L277,32.0 L278,31.8 L279,31.6 L280,31.5 L281,31.7 L282,32.1 L283,32.6 L284,33.4 L285,34.3 L286,35.5 L287,36.8 L288,38.2 L289,39.8 L290,41.6 L291,43.5 L292,45.5 L293,47.6 L294,49.7 L295,52.0 L296,54.3 L297,56.7 L298,59.1 L299,61.6 L300,64.1 L301,66.5 L302,69.0 L303,71.4 L304,73.9 L305,76.2 L306,78.6 L307,80.9 L308,83.1 L309,85.3 L310,87.4 L311,89.5 L312,91.4 L313,93.3 L314,95.1 L315,96.9 L316,98.5 L317,100.1 L318,101.6 L319,103.0 L320,104.3 L321,105.5 L322,106.7 L323,107.8 L324,108.8 L325,109.7 L326,110.6 L327,111.4 L328,112.2 L329,112.8 L330,113.5 L331,114.1 L332,114.6 L333,115.1 L334,115.5 L335,115.9 L336,116.3 L337,116.6 L338,116.9 L339,117.2 L340,117.4 L341,117.7 L342,117.9 L343,118.1 L344,118.2 L345,118.4 L346,118.5 L347,118.6 L348,118.7 L349,118.8 L350,118.9 L351,119.0 L352,119.1 L353,119.1 L354,119.2 L355,119.2 L356,119.3 L357,119.3 L358,119.4 L359,119.4 L360,119.4 L361,119.5 L362,119.5 L363,119.5 L364,119.6 L365,119.6 L366,119.6 L367,119.6 L368,119.6 L369,119.7 L370,119.7 L371,119.7 L372,119.7 L373,119.7 L374,119.7 L375,119.8 L376,119.8 L377,119.8 L378,119.8 L379,119.8 L380,119.8 L381,119.8 L382,119.9 L383,119.9 L384,119.9 L385,119.9 L386,119.9 L387,119.9 L388,119.9 L389,119.9 L390,119.9 L391,119.9 L392,120.0 L393,120.0 L394,120.0 L395,120.0 L396,120.0 L397,120.0 L398,120.0 L399,120.0 L400,120.0 L401,120.0 L402,120.0 L403,120.0 L404,120.1 L405,120.1 L406,120.1 L407,120.1 L408,120.1 L409,120.1 L410,120.1 L411,120.1 L412,120.1 L413,120.1 L414,120.1 L415,120.1 L416,120.1 L417,120.1 L418,120.1 L419,120.1 L420,120.1 L421,120.2 L422,120.2 L423,120.2 L424,120.2 L425,120.2 L426,120.2 L427,120.2 L428,120.2 L429,120.2 L430,120.2 L431,120.2 L432,120.2 L433,120.2 L434,120.2 L435,120.2 L436,120.2 L437,120.2 L438,120.2 L439,120.2 L440,120.2 L441,120.2 L442,120.2 L443,120.2 L444,120.2 L445,120.2 L446,120.3 L447,120.3 L448,120.3 L449,120.3 L450,120.3 L451,120.3 L452,120.3 L453,120.3 L454,120.3 L455,120.3 L456,120.3 L457,120.3 L458,120.3 L459,120.3 L460,120.3 L461,120.3 L462,120.3 L463,120.3 L464,120.3 L465,120.3 L466,120.3 L467,120.3 L468,120.3 L469,120.3 L470,120.3 L471,120.3 L472,120.3 L473,120.3 L474,120.3 L475,120.3 L476,120.3 L477,120.3 L478,120.3 L479,120.3 L480,120.3 L481,120.3 L482,120.3 L483,120.3 L484,120.3 L485,120.3 L486,120.3 L487,120.4 L488,120.4 L489,120.4 L490,120.4 L491,120.4 L492,120.4 L493,120.4 L494,120.4 L495,120.4 L496,120.4 L497,120.4 L498,120.4 L499,120.4 L500,120.4 L501,120.4 L502,120.4 L503,120.4 L504,120.4 L505,120.4 L506,120.4 L507,120.4 L508,120.4 L509,120.4 L510,120.4 L511,120.4 L512,120.4 L513,120.4 L514,120.4 L515,120.4 L516,120.4 L517,120.4 L518,120.4 L519,120.4 L520,120.4 L521,120.4 L522,120.4 L523,120.4 L524,120.4 L525,120.4" stroke="#333" stroke-width="1.9" stroke-linecap="round" stroke-dasharray="0 5.2" fill="none"/>
<path d="M230,105.3 L231,104.8 L232,104.4 L233,103.9 L234,103.3 L235,102.8 L236,102.2 L237,101.5 L238,100.8 L239,100.1 L240,99.3 L241,98.5 L242,97.6 L243,96.7 L244,95.7 L245,94.6 L246,93.5 L247,92.3 L248,91.0 L249,89.7 L250,88.3 L251,86.8 L252,85.2 L253,83.5 L254,81.8 L255,79.9 L256,78.0 L257,76.0 L258,73.9 L259,71.7 L260,69.5 L261,67.1 L262,64.7 L263,62.2 L264,59.7 L265,57.2 L266,54.6 L267,52.0 L268,49.4 L269,46.9 L270,44.5 L271,42.1 L272,39.9 L273,37.9 L274,36.1 L275,34.5 L276,33.2 L277,32.2 L278,31.8 L279,31.8 L280,31.8 L281,31.8 L282,32.3 L283,33.4 L284,34.7 L285,36.4 L286,38.2 L287,40.3 L288,42.6 L289,45.0 L290,47.5 L291,50.1 L292,52.8 L293,55.4 L294,58.1 L295,60.7 L296,63.3 L297,65.9 L298,68.4 L299,70.8 L300,73.1 L301,75.4 L302,77.6 L303,79.6 L304,81.6 L305,83.5 L306,85.3 L307,87.1 L308,88.7 L309,90.3 L310,91.7 L311,93.1 L312,94.4 L313,95.7 L314,96.9 L315,98.0 L316,99.0 L317,100.0 L318,100.9 L319,101.7 L320,102.6 L321,103.3 L322,104.0 L323,104.7 L324,105.3 L325,105.9 L326,106.5 L327,107.0 L328,107.5 L329,108.0 L330,108.4 L331,108.8 L332,109.2 L333,109.6 L334,109.9 L335,110.2 L336,110.6 L337,110.9 L338,111.1 L339,111.4 L340,111.7 L341,111.9 L342,112.1 L343,112.4 L344,112.6 L345,112.8 L346,113.0 L347,113.1 L348,113.3 L349,113.5 L350,113.7 L351,113.8 L352,114.0 L353,114.1 L354,114.2 L355,114.4 L356,114.5 L357,114.6 L358,114.8 L359,114.9 L360,115.0 L361,115.1 L362,115.2 L363,115.3 L364,115.4 L365,115.5 L366,115.6 L367,115.7 L368,115.8 L369,115.9 L370,115.9 L371,116.0 L372,116.1 L373,116.2 L374,116.2 L375,116.3 L376,116.4 L377,116.4 L378,116.5 L379,116.6 L380,116.6 L381,116.7 L382,116.7 L383,116.8 L384,116.9 L385,116.9 L386,117.0 L387,117.0 L388,117.1 L389,117.1 L390,117.2 L391,117.2 L392,117.2 L393,117.3 L394,117.3 L395,117.4 L396,117.4 L397,117.5 L398,117.5 L399,117.5 L400,117.6 L401,117.6 L402,117.6 L403,117.7 L404,117.7 L405,117.7 L406,117.8 L407,117.8 L408,117.8 L409,117.9 L410,117.9 L411,117.9 L412,117.9 L413,118.0 L414,118.0 L415,118.0 L416,118.0 L417,118.1 L418,118.1 L419,118.1 L420,118.1 L421,118.2 L422,118.2 L423,118.2 L424,118.2 L425,118.3 L426,118.3 L427,118.3 L428,118.3 L429,118.3 L430,118.4 L431,118.4 L432,118.4 L433,118.4 L434,118.4 L435,118.4 L436,118.5 L437,118.5 L438,118.5 L439,118.5 L440,118.5 L441,118.5 L442,118.6 L443,118.6 L444,118.6 L445,118.6 L446,118.6 L447,118.6 L448,118.6 L449,118.7 L450,118.7 L451,118.7 L452,118.7 L453,118.7 L454,118.7 L455,118.7 L456,118.7 L457,118.8 L458,118.8 L459,118.8 L460,118.8 L461,118.8 L462,118.8 L463,118.8 L464,118.8 L465,118.9 L466,118.9 L467,118.9 L468,118.9 L469,118.9 L470,118.9 L471,118.9 L472,118.9 L473,118.9 L474,118.9 L475,118.9 L476,119.0 L477,119.0 L478,119.0 L479,119.0 L480,119.0 L481,119.0 L482,119.0 L483,119.0 L484,119.0 L485,119.0 L486,119.0 L487,119.0 L488,119.1 L489,119.1 L490,119.1 L491,119.1 L492,119.1 L493,119.1 L494,119.1 L495,119.1 L496,119.1 L497,119.1 L498,119.1 L499,119.1 L500,119.1 L501,119.1 L502,119.1 L503,119.2 L504,119.2 L505,119.2 L506,119.2 L507,119.2 L508,119.2 L509,119.2 L510,119.2 L511,119.2 L512,119.2 L513,119.2 L514,119.2 L515,119.2 L516,119.2 L517,119.2 L518,119.2 L519,119.2 L520,119.2 L521,119.3 L522,119.3 L523,119.3 L524,119.3 L525,119.3" stroke="#ff1a1a" stroke-width="1.45" fill="none"/>
<path d="M61,219.5 L62,219.5 L63,219.5 L64,219.5 L65,219.5 L66,219.5 L67,219.5 L68,219.5 L69,219.5 L70,219.5 L71,219.5 L72,219.5 L73,219.5 L74,219.5 L75,219.5 L76,219.5 L77,219.5 L78,219.5 L79,219.5 L80,219.5 L81,219.5 L82,219.5 L83,219.5 L84,219.5 L85,219.5 L86,219.5 L87,219.5 L88,219.5 L89,219.5 L90,219.5 L91,219.5 L92,219.5 L93,219.5 L94,219.5 L95,219.5 L96,219.5 L97,219.5 L98,219.5 L99,219.5 L100,219.5 L101,219.5 L102,219.5 L103,219.5 L104,219.5 L105,219.5 L106,219.5 L107,219.5 L108,219.5 L109,219.5 L110,219.5 L111,219.5 L112,219.5 L113,219.5 L114,219.5 L115,219.5 L116,219.5 L117,219.5 L118,219.5 L119,219.5 L120,219.5 L121,219.5 L122,219.5 L123,219.5 L124,219.5 L125,219.5 L126,219.5 L127,219.5 L128,219.5 L129,219.6 L130,219.6 L131,219.6 L132,219.6 L133,219.6 L134,219.6 L135,219.6 L136,219.6 L137,219.6 L138,219.6 L139,219.6 L140,219.6 L141,219.6 L142,219.6 L143,219.6 L144,219.6 L145,219.6 L146,219.6 L147,219.6 L148,219.6 L149,219.6 L150,219.6 L151,219.6 L152,219.6 L153,219.6 L154,219.6 L155,219.6 L156,219.6 L157,219.6 L158,219.6 L159,219.6 L160,219.6 L161,219.6 L162,219.6 L163,219.6 L164,219.6 L165,219.6 L166,219.6 L167,219.6 L168,219.6 L169,219.6 L170,219.6 L171,219.6 L172,219.6 L173,219.6 L174,219.6 L175,219.6 L176,219.6 L177,219.6 L178,219.6 L179,219.6 L180,219.6 L181,219.6 L182,219.6 L183,219.6 L184,219.6 L185,219.6 L186,219.6 L187,219.7 L188,219.7 L189,219.7 L190,219.7 L191,219.7 L192,219.7 L193,219.7 L194,219.7 L195,219.7 L196,219.7 L197,219.7 L198,219.7 L199,219.7 L200,219.7 L201,219.7 L202,219.7 L203,219.7 L204,219.7 L205,219.7 L206,219.7 L207,219.7 L208,219.7 L209,219.7 L210,219.7 L211,219.7 L212,219.7 L213,219.7 L214,219.8 L215,219.8 L216,219.8 L217,219.8 L218,219.8 L219,219.8 L220,219.8 L221,219.8 L222,219.8 L223,219.8 L224,219.8 L225,219.8 L226,219.8 L227,219.8 L228,219.8 L229,219.9 L230,219.9 L231,219.9 L232,219.9 L233,219.9 L234,219.9 L235,219.9 L236,219.9 L237,219.9 L238,219.9 L239,220.0 L240,220.0 L241,220.0 L242,220.0 L243,220.0 L244,220.0 L245,220.0 L246,220.1 L247,220.1 L248,220.1 L249,220.1 L250,220.1 L251,220.2 L252,220.2 L253,220.2 L254,220.2 L255,220.3 L256,220.3 L257,220.3 L258,220.4 L259,220.4 L260,220.4 L261,220.5 L262,220.5 L263,220.6 L264,220.6 L265,220.7 L266,220.7 L267,220.7 L268,220.8 L269,220.9 L270,220.9 L271,221.0 L272,221.0 L273,221.1 L274,221.2 L275,221.2 L276,221.3 L277,221.4 L278,221.4 L279,221.5 L280,221.6 L281,221.6 L282,221.7 L283,221.8 L284,221.8 L285,221.9 L286,222.0 L287,222.0 L288,222.1 L289,222.1 L290,222.2 L291,222.3 L292,222.3 L293,222.4 L294,222.4 L295,222.5 L296,222.5 L297,222.5 L298,222.6 L299,222.6 L300,222.7 L301,222.7 L302,222.7 L303,222.8 L304,222.8 L305,222.8 L306,222.9 L307,222.9 L308,222.9 L309,222.9 L310,223.0 L311,223.0 L312,223.0 L313,223.0 L314,223.0 L315,223.0 L316,223.1 L317,223.1 L318,223.1 L319,223.1 L320,223.1 L321,223.1 L322,223.1 L323,223.2 L324,223.2 L325,223.2 L326,223.2 L327,223.2 L328,223.2 L329,223.2 L330,223.2 L331,223.2 L332,223.2 L333,223.3 L334,223.3 L335,223.3 L336,223.3 L337,223.3 L338,223.3 L339,223.3 L340,223.3 L341,223.3 L342,223.3 L343,223.3 L344,223.3 L345,223.3 L346,223.3 L347,223.3 L348,223.3 L349,223.4 L350,223.4 L351,223.4 L352,223.4 L353,223.4 L354,223.4 L355,223.4 L356,223.4 L357,223.4 L358,223.4 L359,223.4 L360,223.4 L361,223.4 L362,223.4 L363,223.4 L364,223.4 L365,223.4 L366,223.4 L367,223.4 L368,223.4 L369,223.4 L370,223.4 L371,223.4 L372,223.4 L373,223.4 L374,223.4 L375,223.4 L376,223.4 L377,223.4 L378,223.5 L379,223.5 L380,223.5 L381,223.5 L382,223.5 L383,223.5 L384,223.5 L385,223.5 L386,223.5 L387,223.5 L388,223.5 L389,223.5 L390,223.5 L391,223.5 L392,223.5 L393,223.5 L394,223.5 L395,223.5 L396,223.5 L397,223.5 L398,223.5 L399,223.5 L400,223.5 L401,223.5 L402,223.5 L403,223.5 L404,223.5 L405,223.5 L406,223.5 L407,223.5 L408,223.5 L409,223.5 L410,223.5 L411,223.5 L412,223.5 L413,223.5 L414,223.5 L415,223.5 L416,223.5 L417,223.5 L418,223.5 L419,223.5 L420,223.5 L421,223.5 L422,223.5 L423,223.5 L424,223.5 L425,223.5 L426,223.5 L427,223.5 L428,223.5 L429,223.5 L430,223.5 L431,223.5 L432,223.5 L433,223.5 L434,223.5 L435,223.5 L436,223.5 L437,223.5 L438,223.5 L439,223.5 L440,223.5 L441,223.5 L442,223.5 L443,223.5 L444,223.6 L445,223.6 L446,223.6 L447,223.6 L448,223.6 L449,223.6 L450,223.6 L451,223.6 L452,223.6 L453,223.6 L454,223.6 L455,223.6 L456,223.6 L457,223.6 L458,223.6 L459,223.6 L460,223.6 L461,223.6 L462,223.6 L463,223.6 L464,223.6 L465,223.6 L466,223.6 L467,223.6 L468,223.6 L469,223.6 L470,223.6 L471,223.6 L472,223.6 L473,223.6 L474,223.6 L475,223.6 L476,223.6 L477,223.6 L478,223.6 L479,223.6 L480,223.6 L481,223.6 L482,223.6 L483,223.6 L484,223.6 L485,223.6 L486,223.6 L487,223.6 L488,223.6 L489,223.6 L490,223.6 L491,223.6 L492,223.6 L493,223.6 L494,223.6 L495,223.6 L496,223.6 L497,223.6 L498,223.6 L499,223.6 L500,223.6 L501,223.6 L502,223.6 L503,223.6 L504,223.6 L505,223.6 L506,223.6 L507,223.6 L508,223.6 L509,223.6 L510,223.6 L511,223.6 L512,223.6 L513,223.6 L514,223.6 L515,223.6 L516,223.6 L517,223.6 L518,223.6 L519,223.6 L520,223.6 L521,223.6 L522,223.6 L523,223.6 L524,223.6 L525,223.6" stroke="#b3a54a" stroke-width="1.4" fill="none"/>
<path d="M61,218.3 L62,218.3 L63,218.2 L64,218.2 L65,218.2 L66,218.2 L67,218.2 L68,218.2 L69,218.2 L70,218.2 L71,218.2 L72,218.2 L73,218.2 L74,218.2 L75,218.2 L76,218.2 L77,218.1 L78,218.1 L79,218.1 L80,218.1 L81,218.1 L82,218.1 L83,218.1 L84,218.1 L85,218.1 L86,218.1 L87,218.1 L88,218.1 L89,218.0 L90,218.0 L91,218.0 L92,218.0 L93,218.0 L94,218.0 L95,218.0 L96,218.0 L97,218.0 L98,217.9 L99,217.9 L100,217.9 L101,217.9 L102,217.9 L103,217.9 L104,217.9 L105,217.9 L106,217.9 L107,217.8 L108,217.8 L109,217.8 L110,217.8 L111,217.8 L112,217.8 L113,217.8 L114,217.7 L115,217.7 L116,217.7 L117,217.7 L118,217.7 L119,217.7 L120,217.7 L121,217.6 L122,217.6 L123,217.6 L124,217.6 L125,217.6 L126,217.6 L127,217.5 L128,217.5 L129,217.5 L130,217.5 L131,217.5 L132,217.4 L133,217.4 L134,217.4 L135,217.4 L136,217.4 L137,217.3 L138,217.3 L139,217.3 L140,217.3 L141,217.2 L142,217.2 L143,217.2 L144,217.2 L145,217.1 L146,217.1 L147,217.1 L148,217.1 L149,217.0 L150,217.0 L151,217.0 L152,216.9 L153,216.9 L154,216.9 L155,216.8 L156,216.8 L157,216.8 L158,216.7 L159,216.7 L160,216.7 L161,216.6 L162,216.6 L163,216.5 L164,216.5 L165,216.5 L166,216.4 L167,216.4 L168,216.3 L169,216.3 L170,216.2 L171,216.2 L172,216.1 L173,216.1 L174,216.0 L175,216.0 L176,215.9 L177,215.9 L178,215.8 L179,215.7 L180,215.7 L181,215.6 L182,215.5 L183,215.5 L184,215.4 L185,215.3 L186,215.2 L187,215.2 L188,215.1 L189,215.0 L190,214.9 L191,214.8 L192,214.7 L193,214.6 L194,214.5 L195,214.4 L196,214.3 L197,214.2 L198,214.1 L199,214.0 L200,213.9 L201,213.8 L202,213.6 L203,213.5 L204,213.4 L205,213.2 L206,213.1 L207,212.9 L208,212.8 L209,212.6 L210,212.4 L211,212.2 L212,212.1 L213,211.9 L214,211.7 L215,211.4 L216,211.2 L217,211.0 L218,210.7 L219,210.5 L220,210.2 L221,209.9 L222,209.6 L223,209.3 L224,208.9 L225,208.6 L226,208.2 L227,207.8 L228,207.4 L229,206.9 L230,206.4 L231,205.9 L232,205.4 L233,204.8 L234,204.2 L235,203.5 L236,202.8 L237,202.1 L238,201.3 L239,200.4 L240,199.5 L241,198.5 L242,197.5 L243,196.4 L244,195.2 L245,194.0 L246,192.7 L247,191.3 L248,189.8 L249,188.3 L250,186.6 L251,184.9 L252,183.0 L253,181.1 L254,179.1 L255,176.9 L256,174.7 L257,172.4 L258,170.0 L259,167.5 L260,164.9 L261,162.2 L262,159.4 L263,156.6 L264,153.8 L265,150.9 L266,148.0 L267,145.1 L268,142.2 L269,139.4 L270,136.7 L271,134.1 L272,131.7 L273,129.5 L274,127.6 L275,125.9 L276,124.6 L277,123.6 L278,123.5 L279,123.5 L280,123.5 L281,123.5 L282,124.3 L283,125.6 L284,127.2 L285,129.1 L286,131.3 L287,133.7 L288,136.3 L289,139.0 L290,141.9 L291,144.8 L292,147.8 L293,150.8 L294,153.8 L295,156.8 L296,159.7 L297,162.6 L298,165.4 L299,168.1 L300,170.7 L301,173.3 L302,175.7 L303,178.1 L304,180.3 L305,182.5 L306,184.5 L307,186.5 L308,188.3 L309,190.1 L310,191.7 L311,193.3 L312,194.8 L313,196.2 L314,197.5 L315,198.7 L316,199.9 L317,201.0 L318,202.0 L319,203.0 L320,203.9 L321,204.8 L322,205.6 L323,206.3 L324,207.0 L325,207.7 L326,208.3 L327,208.9 L328,209.5 L329,210.0 L330,210.5 L331,210.9 L332,211.4 L333,211.8 L334,212.2 L335,212.5 L336,212.9 L337,213.2 L338,213.5 L339,213.8 L340,214.1 L341,214.4 L342,214.6 L343,214.9 L344,215.1 L345,215.3 L346,215.5 L347,215.7 L348,215.9 L349,216.1 L350,216.3 L351,216.5 L352,216.6 L353,216.8 L354,217.0 L355,217.1 L356,217.2 L357,217.4 L358,217.5 L359,217.6 L360,217.8 L361,217.9 L362,218.0 L363,218.1 L364,218.2 L365,218.3 L366,218.4 L367,218.5 L368,218.6 L369,218.7 L370,218.8 L371,218.9 L372,219.0 L373,219.1 L374,219.1 L375,219.2 L376,219.3 L377,219.4 L378,219.4 L379,219.5 L380,219.6 L381,219.6 L382,219.7 L383,219.8 L384,219.8 L385,219.9 L386,220.0 L387,220.0 L388,220.1 L389,220.1 L390,220.2 L391,220.2 L392,220.3 L393,220.3 L394,220.4 L395,220.4 L396,220.4 L397,220.5 L398,220.5 L399,220.6 L400,220.6 L401,220.7 L402,220.7 L403,220.7 L404,220.8 L405,220.8 L406,220.8 L407,220.9 L408,220.9 L409,220.9 L410,221.0 L411,221.0 L412,221.0 L413,221.1 L414,221.1 L415,221.1 L416,221.2 L417,221.2 L418,221.2 L419,221.2 L420,221.3 L421,221.3 L422,221.3 L423,221.3 L424,221.4 L425,221.4 L426,221.4 L427,221.4 L428,221.4 L429,221.5 L430,221.5 L431,221.5 L432,221.5 L433,221.6 L434,221.6 L435,221.6 L436,221.6 L437,221.6 L438,221.6 L439,221.7 L440,221.7 L441,221.7 L442,221.7 L443,221.7 L444,221.8 L445,221.8 L446,221.8 L447,221.8 L448,221.8 L449,221.8 L450,221.8 L451,221.9 L452,221.9 L453,221.9 L454,221.9 L455,221.9 L456,221.9 L457,221.9 L458,222.0 L459,222.0 L460,222.0 L461,222.0 L462,222.0 L463,222.0 L464,222.0 L465,222.0 L466,222.1 L467,222.1 L468,222.1 L469,222.1 L470,222.1 L471,222.1 L472,222.1 L473,222.1 L474,222.1 L475,222.2 L476,222.2 L477,222.2 L478,222.2 L479,222.2 L480,222.2 L481,222.2 L482,222.2 L483,222.2 L484,222.2 L485,222.2 L486,222.3 L487,222.3 L488,222.3 L489,222.3 L490,222.3 L491,222.3 L492,222.3 L493,222.3 L494,222.3 L495,222.3 L496,222.3 L497,222.3 L498,222.3 L499,222.4 L500,222.4 L501,222.4 L502,222.4 L503,222.4 L504,222.4 L505,222.4 L506,222.4 L507,222.4 L508,222.4 L509,222.4 L510,222.4 L511,222.4 L512,222.4 L513,222.4 L514,222.5 L515,222.5 L516,222.5 L517,222.5 L518,222.5 L519,222.5 L520,222.5 L521,222.5 L522,222.5 L523,222.5 L524,222.5 L525,222.5" stroke="#ff1a1a" stroke-width="1.45" fill="none"/>
<path d="M61,218.9 L62,218.9 L63,218.9 L64,218.9 L65,218.9 L66,218.9 L67,218.9 L68,218.9 L69,218.8 L70,218.8 L71,218.8 L72,218.8 L73,218.8 L74,218.8 L75,218.8 L76,218.7 L77,218.7 L78,218.7 L79,218.7 L80,218.7 L81,218.6 L82,218.6 L83,218.6 L84,218.6 L85,218.5 L86,218.5 L87,218.5 L88,218.4 L89,218.4 L90,218.4 L91,218.3 L92,218.3 L93,218.3 L94,218.2 L95,218.2 L96,218.1 L97,218.1 L98,218.0 L99,218.0 L100,217.9 L101,217.9 L102,217.8 L103,217.8 L104,217.7 L105,217.7 L106,217.6 L107,217.5 L108,217.5 L109,217.4 L110,217.4 L111,217.3 L112,217.2 L113,217.1 L114,217.1 L115,217.0 L116,216.9 L117,216.9 L118,216.8 L119,216.7 L120,216.6 L121,216.6 L122,216.5 L123,216.4 L124,216.4 L125,216.3 L126,216.2 L127,216.1 L128,216.1 L129,216.0 L130,215.9 L131,215.8 L132,215.8 L133,215.7 L134,215.7 L135,215.6 L136,215.5 L137,215.5 L138,215.4 L139,215.4 L140,215.3 L141,215.3 L142,215.2 L143,215.2 L144,215.1 L145,215.1 L146,215.0 L147,215.0 L148,215.0 L149,215.0 L150,214.9 L151,214.9 L152,214.9 L153,214.9 L154,214.9 L155,214.9 L156,214.9 L157,214.9 L158,214.9 L159,214.9 L160,214.9 L161,214.9 L162,215.0 L163,215.0 L164,215.0 L165,215.0 L166,215.1 L167,215.1 L168,215.2 L169,215.2 L170,215.3 L171,215.3 L172,215.4 L173,215.4 L174,215.5 L175,215.5 L176,215.6 L177,215.7 L178,215.7 L179,215.8 L180,215.9 L181,215.9 L182,216.0 L183,216.1 L184,216.2 L185,216.2 L186,216.3 L187,216.4 L188,216.5 L189,216.5 L190,216.6 L191,216.7 L192,216.8 L193,216.8 L194,216.9 L195,217.0 L196,217.1 L197,217.2 L198,217.2 L199,217.3 L200,217.4 L201,217.4 L202,217.5 L203,217.6 L204,217.7 L205,217.7 L206,217.8 L207,217.9 L208,217.9 L209,218.0 L210,218.0 L211,218.1 L212,218.2 L213,218.2 L214,218.3 L215,218.3 L216,218.4 L217,218.4 L218,218.5 L219,218.5 L220,218.6 L221,218.6 L222,218.7 L223,218.7 L224,218.7 L225,218.8 L226,218.8 L227,218.9 L228,218.9 L229,218.9 L230,219.0 L231,219.0 L232,219.0 L233,219.1 L234,219.1 L235,219.1 L236,219.2 L237,219.2 L238,219.2 L239,219.2 L240,219.3 L241,219.3 L242,219.3 L243,219.4 L244,219.4 L245,219.4 L246,219.4 L247,219.5 L248,219.5 L249,219.5 L250,219.6 L251,219.6" stroke="#ffa62b" stroke-width="1.6" fill="none"/>
<path d="M61,219.5 L62,219.5 L63,219.5 L64,219.5 L65,219.5 L66,219.5 L67,219.5 L68,219.5 L69,219.5 L70,219.5 L71,219.5 L72,219.5 L73,219.5 L74,219.5 L75,219.5 L76,219.5 L77,219.5 L78,219.5 L79,219.5 L80,219.5 L81,219.5 L82,219.5 L83,219.5 L84,219.5 L85,219.5 L86,219.5 L87,219.5 L88,219.5 L89,219.5 L90,219.5 L91,219.5 L92,219.5 L93,219.5 L94,219.5 L95,219.5 L96,219.5 L97,219.5 L98,219.5 L99,219.5 L100,219.5 L101,219.5 L102,219.5 L103,219.5 L104,219.5 L105,219.5 L106,219.5 L107,219.5 L108,219.5 L109,219.5 L110,219.5 L111,219.5 L112,219.5 L113,219.5 L114,219.5 L115,219.5 L116,219.5 L117,219.5 L118,219.5 L119,219.5 L120,219.5 L121,219.5 L122,219.5 L123,219.5 L124,219.5 L125,219.5 L126,219.5 L127,219.5 L128,219.5 L129,219.5 L130,219.5 L131,219.5 L132,219.5 L133,219.5 L134,219.5 L135,219.5 L136,219.5 L137,219.5 L138,219.5 L139,219.5 L140,219.5 L141,219.5 L142,219.5 L143,219.5 L144,219.5 L145,219.4 L146,219.4 L147,219.4 L148,219.4 L149,219.4 L150,219.4 L151,219.4 L152,219.4 L153,219.4 L154,219.4 L155,219.4 L156,219.4 L157,219.4 L158,219.4 L159,219.4 L160,219.3 L161,219.3 L162,219.3 L163,219.3 L164,219.2 L165,219.2 L166,219.2 L167,219.1 L168,219.1 L169,219.0 L170,219.0 L171,218.9 L172,218.8 L173,218.7 L174,218.6 L175,218.5 L176,218.4 L177,218.3 L178,218.1 L179,218.0 L180,217.8 L181,217.6 L182,217.4 L183,217.2 L184,217.0 L185,216.8 L186,216.5 L187,216.3 L188,216.0 L189,215.7 L190,215.5 L191,215.2 L192,214.9 L193,214.6 L194,214.3 L195,214.0 L196,213.8 L197,213.5 L198,213.3 L199,213.0 L200,212.8 L201,212.6 L202,212.5 L203,212.3 L204,212.2 L205,212.2 L206,212.1 L207,212.1 L208,212.2 L209,212.3 L210,212.4 L211,212.6 L212,212.8 L213,213.0 L214,213.3 L215,213.5 L216,213.8 L217,214.2 L218,214.5 L219,214.8 L220,215.2 L221,215.5 L222,215.8 L223,216.1 L224,216.4 L225,216.7 L226,217.0 L227,217.3 L228,217.5 L229,217.8 L230,218.0 L231,218.2 L232,218.4 L233,218.6 L234,218.7 L235,218.9 L236,219.0 L237,219.1 L238,219.2 L239,219.3 L240,219.4 L241,219.5 L242,219.5 L243,219.6 L244,219.7 L245,219.7 L246,219.8 L247,219.8 L248,219.8 L249,219.9 L250,219.9 L251,220.0 L252,220.0 L253,220.0 L254,220.1 L255,220.1 L256,220.2 L257,220.2 L258,220.2 L259,220.3 L260,220.3 L261,220.4 L262,220.4 L263,220.4 L264,220.5 L265,220.5 L266,220.6 L267,220.6 L268,220.7 L269,220.8 L270,220.8 L271,220.9 L272,220.9 L273,221.0 L274,221.1 L275,221.1 L276,221.2 L277,221.3 L278,221.3 L279,221.4 L280,221.5 L281,221.6 L282,221.6 L283,221.7 L284,221.8 L285,221.8 L286,221.9 L287,222.0 L288,222.0 L289,222.1 L290,222.1 L291,222.2 L292,222.3 L293,222.3 L294,222.4 L295,222.4 L296,222.5 L297,222.5 L298,222.5 L299,222.6 L300,222.6 L301,222.7 L302,222.7 L303,222.7 L304,222.8 L305,222.8 L306,222.8 L307,222.8 L308,222.9 L309,222.9 L310,222.9 L311,222.9 L312,223.0 L313,223.0 L314,223.0 L315,223.0 L316,223.0 L317,223.0 L318,223.1 L319,223.1 L320,223.1 L321,223.1 L322,223.1 L323,223.1 L324,223.1 L325,223.2 L326,223.2 L327,223.2 L328,223.2 L329,223.2 L330,223.2 L331,223.2 L332,223.2 L333,223.2 L334,223.2 L335,223.2 L336,223.3 L337,223.3 L338,223.3 L339,223.3 L340,223.3 L341,223.3 L342,223.3 L343,223.3 L344,223.3 L345,223.3 L346,223.3 L347,223.3 L348,223.3 L349,223.3 L350,223.3 L351,223.3 L352,223.3 L353,223.4 L354,223.4 L355,223.4 L356,223.4 L357,223.4 L358,223.4 L359,223.4 L360,223.4 L361,223.4 L362,223.4 L363,223.4 L364,223.4 L365,223.4 L366,223.4 L367,223.4 L368,223.4 L369,223.4 L370,223.4 L371,223.4 L372,223.4 L373,223.4 L374,223.4 L375,223.4 L376,223.4 L377,223.4 L378,223.4 L379,223.4 L380,223.4 L381,223.4 L382,223.4 L383,223.5 L384,223.5 L385,223.5 L386,223.5 L387,223.5 L388,223.5 L389,223.5 L390,223.5 L391,223.5 L392,223.5 L393,223.5 L394,223.5 L395,223.5 L396,223.5 L397,223.5 L398,223.5 L399,223.5 L400,223.5 L401,223.5 L402,223.5 L403,223.5 L404,223.5 L405,223.5 L406,223.5 L407,223.5 L408,223.5 L409,223.5 L410,223.5 L411,223.5 L412,223.5 L413,223.5 L414,223.5 L415,223.5 L416,223.5 L417,223.5 L418,223.5 L419,223.5 L420,223.5 L421,223.5 L422,223.5 L423,223.5 L424,223.5 L425,223.5 L426,223.5 L427,223.5 L428,223.5 L429,223.5 L430,223.5 L431,223.5 L432,223.5 L433,223.5 L434,223.5 L435,223.5 L436,223.5 L437,223.5 L438,223.5 L439,223.5 L440,223.5 L441,223.5 L442,223.5 L443,223.5 L444,223.5 L445,223.5 L446,223.5 L447,223.5 L448,223.5 L449,223.5 L450,223.5 L451,223.5 L452,223.6 L453,223.6 L454,223.6 L455,223.6 L456,223.6 L457,223.6 L458,223.6 L459,223.6 L460,223.6 L461,223.6 L462,223.6 L463,223.6 L464,223.6 L465,223.6 L466,223.6 L467,223.6 L468,223.6 L469,223.6 L470,223.6 L471,223.6 L472,223.6 L473,223.6 L474,223.6 L475,223.6 L476,223.6 L477,223.6 L478,223.6 L479,223.6 L480,223.6 L481,223.6 L482,223.6 L483,223.6 L484,223.6 L485,223.6 L486,223.6 L487,223.6 L488,223.6 L489,223.6 L490,223.6 L491,223.6 L492,223.6 L493,223.6 L494,223.6 L495,223.6 L496,223.6 L497,223.6 L498,223.6 L499,223.6 L500,223.6 L501,223.6 L502,223.6 L503,223.6 L504,223.6 L505,223.6 L506,223.6 L507,223.6 L508,223.6 L509,223.6 L510,223.6 L511,223.6 L512,223.6 L513,223.6 L514,223.6 L515,223.6 L516,223.6 L517,223.6 L518,223.6 L519,223.6 L520,223.6 L521,223.6 L522,223.6 L523,223.6 L524,223.6 L525,223.6" stroke="#0ba33a" stroke-width="1.5" fill="none"/>
<path d="M61,218.1 L62,218.1 L63,218.1 L64,218.1 L65,218.1 L66,218.1 L67,218.1 L68,218.0 L69,218.0 L70,218.0 L71,218.0 L72,218.0 L73,217.9 L74,217.9 L75,217.9 L76,217.9 L77,217.8 L78,217.8 L79,217.8 L80,217.7 L81,217.7 L82,217.7 L83,217.6 L84,217.6 L85,217.6 L86,217.5 L87,217.5 L88,217.4 L89,217.4 L90,217.4 L91,217.3 L92,217.3 L93,217.2 L94,217.2 L95,217.1 L96,217.0 L97,217.0 L98,216.9 L99,216.9 L100,216.8 L101,216.7 L102,216.7 L103,216.6 L104,216.5 L105,216.5 L106,216.4 L107,216.3 L108,216.2 L109,216.2 L110,216.1 L111,216.0 L112,215.9 L113,215.8 L114,215.7 L115,215.6 L116,215.6 L117,215.5 L118,215.4 L119,215.3 L120,215.2 L121,215.1 L122,215.0 L123,214.9 L124,214.8 L125,214.7 L126,214.6 L127,214.5 L128,214.5 L129,214.4 L130,214.3 L131,214.2 L132,214.1 L133,214.0 L134,213.9 L135,213.8 L136,213.7 L137,213.6 L138,213.6 L139,213.5 L140,213.4 L141,213.3 L142,213.2 L143,213.2 L144,213.1 L145,213.0 L146,213.0 L147,212.9 L148,212.8 L149,212.8 L150,212.7 L151,212.7 L152,212.6 L153,212.6 L154,212.5 L155,212.5 L156,212.4 L157,212.4 L158,212.3 L159,212.3 L160,212.2 L161,212.2 L162,212.1 L163,212.1 L164,212.1 L165,212.0 L166,212.0 L167,211.9 L168,211.8 L169,211.8 L170,211.7 L171,211.6 L172,211.6 L173,211.5 L174,211.4 L175,211.3 L176,211.1 L177,211.0 L178,210.9 L179,210.7 L180,210.5 L181,210.3 L182,210.1 L183,209.9 L184,209.7 L185,209.5 L186,209.2 L187,208.9 L188,208.6 L189,208.3 L190,208.0 L191,207.7 L192,207.4 L193,207.0 L194,206.7 L195,206.4 L196,206.0 L197,205.7 L198,205.4 L199,205.1 L200,204.8 L201,204.5 L202,204.2 L203,204.0 L204,203.7 L205,203.5 L206,203.4 L207,203.2 L208,203.1 L209,203.0 L210,203.0 L211,202.9 L212,202.9 L213,203.0 L214,203.0 L215,203.0 L216,203.1 L217,203.1 L218,203.2 L219,203.2 L220,203.2 L221,203.2 L222,203.2 L223,203.2 L224,203.1 L225,203.0 L226,202.9 L227,202.7 L228,202.5 L229,202.2 L230,201.9 L231,201.6 L232,201.2 L233,200.8 L234,200.3 L235,199.7 L236,199.2 L237,198.5 L238,197.8 L239,197.0 L240,196.2 L241,195.3 L242,194.4 L243,193.4 L244,192.3 L245,191.1 L246,189.9 L247,188.5 L248,187.1 L249,185.6 L250,184.1 L251,182.4 L252,180.6 L253,178.8 L254,176.8 L255,174.8 L256,172.7 L257,170.6 L258,168.3 L259,165.9 L260,163.5 L261,160.9 L262,158.3 L263,155.6 L264,152.8 L265,150.0 L266,147.2 L267,144.4 L268,141.6 L269,138.9 L270,136.3 L271,133.7 L272,131.4 L273,129.2 L274,127.3 L275,125.7 L276,124.4 L277,123.4 L278,123.4 L279,123.4 L280,123.4 L281,123.4 L282,124.2 L283,125.5 L284,127.1 L285,129.0 L286,131.2 L287,133.6 L288,136.2 L289,139.0 L290,141.8 L291,144.8 L292,147.8 L293,150.8 L294,153.8 L295,156.7 L296,159.7 L297,162.5 L298,165.3 L299,168.1 L300,170.7 L301,173.2 L302,175.7 L303,178.0 L304,180.3 L305,182.4 L306,184.5 L307,186.4 L308,188.3 L309,190.0 L310,191.7 L311,193.3 L312,194.7 L313,196.1 L314,197.5 L315,198.7 L316,199.9 L317,201.0 L318,202.0 L319,203.0 L320,203.9 L321,204.8 L322,205.6 L323,206.3 L324,207.0 L325,207.7 L326,208.3 L327,208.9 L328,209.4 L329,210.0 L330,210.5 L331,210.9 L332,211.3 L333,211.8 L334,212.1 L335,212.5 L336,212.9 L337,213.2 L338,213.5 L339,213.8 L340,214.1 L341,214.3 L342,214.6 L343,214.8 L344,215.1 L345,215.3 L346,215.5 L347,215.7 L348,215.9 L349,216.1 L350,216.3 L351,216.5 L352,216.6 L353,216.8 L354,216.9 L355,217.1 L356,217.2 L357,217.4 L358,217.5 L359,217.6 L360,217.8 L361,217.9 L362,218.0 L363,218.1 L364,218.2 L365,218.3 L366,218.4 L367,218.5 L368,218.6 L369,218.7 L370,218.8 L371,218.9 L372,219.0 L373,219.1 L374,219.1 L375,219.2 L376,219.3 L377,219.4 L378,219.4 L379,219.5 L380,219.6 L381,219.6 L382,219.7 L383,219.8 L384,219.8 L385,219.9 L386,219.9 L387,220.0 L388,220.0 L389,220.1 L390,220.2 L391,220.2 L392,220.3 L393,220.3 L394,220.3 L395,220.4 L396,220.4 L397,220.5 L398,220.5 L399,220.6 L400,220.6 L401,220.6 L402,220.7 L403,220.7 L404,220.8 L405,220.8 L406,220.8 L407,220.9 L408,220.9 L409,220.9 L410,221.0 L411,221.0 L412,221.0 L413,221.1 L414,221.1 L415,221.1 L416,221.1 L417,221.2 L418,221.2 L419,221.2 L420,221.3 L421,221.3 L422,221.3 L423,221.3 L424,221.3 L425,221.4 L426,221.4 L427,221.4 L428,221.4 L429,221.5 L430,221.5 L431,221.5 L432,221.5 L433,221.5 L434,221.6 L435,221.6 L436,221.6 L437,221.6 L438,221.6 L439,221.7 L440,221.7 L441,221.7 L442,221.7 L443,221.7 L444,221.7 L445,221.8 L446,221.8 L447,221.8 L448,221.8 L449,221.8 L450,221.8 L451,221.9 L452,221.9 L453,221.9 L454,221.9 L455,221.9 L456,221.9 L457,221.9 L458,222.0 L459,222.0 L460,222.0 L461,222.0 L462,222.0 L463,222.0 L464,222.0 L465,222.0 L466,222.0 L467,222.1 L468,222.1 L469,222.1 L470,222.1 L471,222.1 L472,222.1 L473,222.1 L474,222.1 L475,222.1 L476,222.2 L477,222.2 L478,222.2 L479,222.2 L480,222.2 L481,222.2 L482,222.2 L483,222.2 L484,222.2 L485,222.2 L486,222.2 L487,222.3 L488,222.3 L489,222.3 L490,222.3 L491,222.3 L492,222.3 L493,222.3 L494,222.3 L495,222.3 L496,222.3 L497,222.3 L498,222.3 L499,222.3 L500,222.4 L501,222.4 L502,222.4 L503,222.4 L504,222.4 L505,222.4 L506,222.4 L507,222.4 L508,222.4 L509,222.4 L510,222.4 L511,222.4 L512,222.4 L513,222.4 L514,222.4 L515,222.5 L516,222.5 L517,222.5 L518,222.5 L519,222.5 L520,222.5 L521,222.5 L522,222.5 L523,222.5 L524,222.5 L525,222.5" stroke="#222" stroke-width="1.4" fill="none"/>
<path d="M61,218.1 L62,218.2 L63,218.1 L64,217.6 L65,218.0 L66,217.7 L67,217.7 L68,217.6 L69,218.0 L70,217.9 L71,217.5 L72,218.2 L73,218.2 L74,218.0 L75,217.4 L76,218.3 L77,218.4 L78,218.4 L79,218.4 L80,218.4 L81,218.4 L82,218.1 L83,218.2 L84,217.3 L85,217.4 L86,217.2 L87,217.1 L88,217.3 L89,216.7 L90,217.0 L91,216.1 L92,215.8 L93,215.6 L94,216.7 L95,217.1 L96,217.3 L97,217.1 L98,216.9 L99,216.9 L100,216.4 L101,216.1 L102,215.8 L103,216.1 L104,216.7 L105,216.7 L106,217.2 L107,217.1 L108,217.1 L109,217.0 L110,216.7 L111,216.0 L112,215.7 L113,215.8 L114,216.0 L115,215.7 L116,216.2 L117,216.4 L118,216.3 L119,216.3 L120,215.7 L121,215.4 L122,215.1 L123,214.9 L124,214.9 L125,215.0 L126,215.3 L127,214.7 L128,214.0 L129,214.0 L130,214.1 L131,214.1 L132,214.3 L133,213.8 L134,213.3 L135,213.2 L136,213.3 L137,213.8 L138,213.2 L139,212.7 L140,213.0 L141,213.0 L142,213.9 L143,213.7 L144,213.7 L145,212.9 L146,212.3 L147,212.0 L148,212.9 L149,213.1 L150,213.7 L151,212.7 L152,212.6 L153,212.6 L154,212.8 L155,213.0 L156,212.3 L157,211.9 L158,211.7 L159,211.9 L160,212.4 L161,211.7 L162,212.0 L163,212.5 L164,213.0 L165,212.8 L166,212.0 L167,211.4 L168,211.5 L169,210.9 L170,211.2 L171,211.4 L172,211.6 L173,211.8 L174,211.6 L175,211.8 L176,211.1 L177,210.6 L178,210.9 L179,210.6 L180,210.4 L181,209.5 L182,209.9 L183,210.0 L184,210.4 L185,210.1 L186,209.8 L187,209.2 L188,209.2 L189,208.5 L190,207.7 L191,206.9 L192,206.5 L193,206.6 L194,206.8 L195,206.8 L196,206.2 L197,206.2 L198,206.2 L199,206.0 L200,204.9 L201,204.2 L202,204.4 L203,204.5 L204,204.4 L205,203.8 L206,203.6 L207,203.8 L208,203.6 L209,203.5 L210,203.0 L211,203.1 L212,202.7 L213,202.1 L214,201.7 L215,202.2 L216,203.0 L217,203.2 L218,203.6 L219,203.4 L220,203.6 L221,203.1 L222,203.2 L223,203.4 L224,203.6 L225,203.1 L226,203.3 L227,202.6 L228,202.6 L229,201.8 L230,201.6 L231,201.2 L232,200.6 L233,200.5 L234,200.2 L235,200.3 L236,199.8 L237,198.9 L238,197.6 L239,196.8 L240,196.0 L241,194.5 L242,192.9 L243,191.2 L244,189.4 L245,187.5 L246,185.6 L247,183.6 L248,181.4 L249,179.3 L250,177.0 L251,174.7 L252,172.3 L253,169.9 L254,167.4 L255,164.9 L256,162.4 L257,159.9 L258,157.3 L259,154.8 L260,152.2 L261,149.7 L262,147.2 L263,144.8 L264,142.4 L265,140.1 L266,137.9 L267,135.7 L268,133.7 L269,131.8 L270,130.1 L271,128.4 L272,127.0 L273,125.7 L274,124.6 L275,123.6 L276,122.9 L277,122.4 L278,122.0 L279,121.9 L280,122.0 L281,122.4 L282,123.0 L283,123.9 L284,125.1 L285,126.5 L286,128.2 L287,130.1 L288,132.2 L289,134.4 L290,136.9 L291,139.5 L292,142.1 L293,144.9 L294,147.8 L295,150.8 L296,153.7 L297,156.8 L298,159.8 L299,162.8 L300,165.8 L301,168.8 L302,171.7 L303,174.6 L304,177.4 L305,180.1 L306,182.7 L307,185.3 L308,187.8 L309,190.1 L310,192.4 L311,194.5 L312,196.6 L313,198.5 L314,200.3 L315,202.1 L316,203.7 L317,205.2 L318,206.6 L319,208.0 L320,209.2 L321,210.3 L322,211.4 L323,212.3 L324,213.2 L325,214.0 L326,214.8 L327,215.5 L328,216.1 L329,216.7 L330,217.2 L331,217.7 L332,218.1 L333,218.5 L334,218.8 L335,219.2 L336,219.5 L337,219.7 L338,219.9 L339,220.2 L340,220.4 L341,220.5 L342,220.7 L343,220.8 L344,221.0 L345,221.1 L346,221.2 L347,221.3 L348,221.4 L349,221.5 L350,221.6 L351,221.6 L352,221.7 L353,221.8 L354,221.8 L355,221.9 L356,221.9 L357,222.0 L358,222.0 L359,222.1 L360,222.1 L361,222.2 L362,222.2 L363,222.2 L364,222.3 L365,222.3 L366,222.3 L367,222.4 L368,222.4 L369,222.4 L370,222.5 L371,222.5 L372,222.5 L373,222.6 L374,222.6 L375,222.6 L376,222.6 L377,222.7 L378,222.7 L379,222.7 L380,222.7 L381,222.7 L382,222.8 L383,222.8 L384,222.8 L385,222.8 L386,222.8 L387,222.9 L388,222.9 L389,222.9 L390,222.9 L391,222.9 L392,222.9 L393,223.0 L394,223.0 L395,223.0 L396,223.0 L397,223.0 L398,223.0 L399,223.1 L400,223.1 L401,223.1 L402,223.1 L403,223.1 L404,223.1 L405,223.1 L406,223.1 L407,223.2 L408,223.2 L409,223.2 L410,223.2 L411,223.2 L412,223.2 L413,223.2 L414,223.2 L415,223.2 L416,223.2 L417,223.3 L418,223.3 L419,223.3 L420,223.3 L421,223.3 L422,223.3 L423,223.3 L424,223.3 L425,223.3 L426,223.3 L427,223.3 L428,223.3 L429,223.4 L430,223.4 L431,223.4 L432,223.4 L433,223.4 L434,223.4 L435,223.4 L436,223.4 L437,223.4 L438,223.4 L439,223.4 L440,223.4 L441,223.4 L442,223.4 L443,223.4 L444,223.5 L445,223.5 L446,223.5 L447,223.5 L448,223.5 L449,223.5 L450,223.5 L451,223.5 L452,223.5 L453,223.5 L454,223.5 L455,223.5 L456,223.5 L457,223.5 L458,223.5 L459,223.5 L460,223.5 L461,223.5 L462,223.5 L463,223.5 L464,223.5 L465,223.6 L466,223.6 L467,223.6 L468,223.6 L469,223.6 L470,223.6 L471,223.6 L472,223.6 L473,223.6 L474,223.6 L475,223.6 L476,223.6 L477,223.6 L478,223.6 L479,223.6 L480,223.6 L481,223.6 L482,223.6 L483,223.6 L484,223.6 L485,223.6 L486,223.6 L487,223.6 L488,223.6 L489,223.6 L490,223.6 L491,223.6 L492,223.6 L493,223.6 L494,223.7 L495,223.7 L496,223.7 L497,223.7 L498,223.7 L499,223.7 L500,223.7 L501,223.7 L502,223.7 L503,223.7 L504,223.7 L505,223.7 L506,223.7 L507,223.7 L508,223.7 L509,223.7 L510,223.7 L511,223.7 L512,223.7 L513,223.7 L514,223.7 L515,223.7 L516,223.7 L517,223.7 L518,223.7 L519,223.7 L520,223.7 L521,223.7 L522,223.7 L523,223.7 L524,223.7 L525,223.7" stroke="#333" stroke-width="1.9" stroke-linecap="round" stroke-dasharray="0 5.2" fill="none"/>
<path d="M230,206.4 L231,205.9 L232,205.4 L233,204.8 L234,204.2 L235,203.5 L236,202.8 L237,202.1 L238,201.3 L239,200.4 L240,199.5 L241,198.5 L242,197.5 L243,196.4 L244,195.2 L245,194.0 L246,192.7 L247,191.3 L248,189.8 L249,188.3 L250,186.6 L251,184.9 L252,183.0 L253,181.1 L254,179.1 L255,176.9 L256,174.7 L257,172.4 L258,170.0 L259,167.5 L260,164.9 L261,162.2 L262,159.4 L263,156.6 L264,153.8 L265,150.9 L266,148.0 L267,145.1 L268,142.2 L269,139.4 L270,136.7 L271,134.1 L272,131.7 L273,129.5 L274,127.6 L275,125.9 L276,124.6 L277,123.6 L278,123.5 L279,123.5 L280,123.5 L281,123.5 L282,124.3 L283,125.6 L284,127.2 L285,129.1 L286,131.3 L287,133.7 L288,136.3 L289,139.0 L290,141.9 L291,144.8 L292,147.8 L293,150.8 L294,153.8 L295,156.8 L296,159.7 L297,162.6 L298,165.4 L299,168.1 L300,170.7 L301,173.3 L302,175.7 L303,178.1 L304,180.3 L305,182.5 L306,184.5 L307,186.5 L308,188.3 L309,190.1 L310,191.7 L311,193.3 L312,194.8 L313,196.2 L314,197.5 L315,198.7 L316,199.9 L317,201.0 L318,202.0 L319,203.0 L320,203.9 L321,204.8 L322,205.6 L323,206.3 L324,207.0 L325,207.7 L326,208.3 L327,208.9 L328,209.5 L329,210.0 L330,210.5 L331,210.9 L332,211.4 L333,211.8 L334,212.2 L335,212.5 L336,212.9 L337,213.2 L338,213.5 L339,213.8 L340,214.1 L341,214.4 L342,214.6 L343,214.9 L344,215.1 L345,215.3 L346,215.5 L347,215.7 L348,215.9 L349,216.1 L350,216.3 L351,216.5 L352,216.6 L353,216.8 L354,217.0 L355,217.1 L356,217.2 L357,217.4 L358,217.5 L359,217.6 L360,217.8 L361,217.9 L362,218.0 L363,218.1 L364,218.2 L365,218.3 L366,218.4 L367,218.5 L368,218.6 L369,218.7 L370,218.8 L371,218.9 L372,219.0 L373,219.1 L374,219.1 L375,219.2 L376,219.3 L377,219.4 L378,219.4 L379,219.5 L380,219.6 L381,219.6 L382,219.7 L383,219.8 L384,219.8 L385,219.9 L386,220.0 L387,220.0 L388,220.1 L389,220.1 L390,220.2 L391,220.2 L392,220.3 L393,220.3 L394,220.4 L395,220.4 L396,220.4 L397,220.5 L398,220.5 L399,220.6 L400,220.6 L401,220.7 L402,220.7 L403,220.7 L404,220.8 L405,220.8 L406,220.8 L407,220.9 L408,220.9 L409,220.9 L410,221.0 L411,221.0 L412,221.0 L413,221.1 L414,221.1 L415,221.1 L416,221.2 L417,221.2 L418,221.2 L419,221.2 L420,221.3 L421,221.3 L422,221.3 L423,221.3 L424,221.4 L425,221.4 L426,221.4 L427,221.4 L428,221.4 L429,221.5 L430,221.5 L431,221.5 L432,221.5 L433,221.6 L434,221.6 L435,221.6 L436,221.6 L437,221.6 L438,221.6 L439,221.7 L440,221.7 L441,221.7 L442,221.7 L443,221.7 L444,221.8 L445,221.8 L446,221.8 L447,221.8 L448,221.8 L449,221.8 L450,221.8 L451,221.9 L452,221.9 L453,221.9 L454,221.9 L455,221.9 L456,221.9 L457,221.9 L458,222.0 L459,222.0 L460,222.0 L461,222.0 L462,222.0 L463,222.0 L464,222.0 L465,222.0 L466,222.1 L467,222.1 L468,222.1 L469,222.1 L470,222.1 L471,222.1 L472,222.1 L473,222.1 L474,222.1 L475,222.2 L476,222.2 L477,222.2 L478,222.2 L479,222.2 L480,222.2 L481,222.2 L482,222.2 L483,222.2 L484,222.2 L485,222.2 L486,222.3 L487,222.3 L488,222.3 L489,222.3 L490,222.3 L491,222.3 L492,222.3 L493,222.3 L494,222.3 L495,222.3 L496,222.3 L497,222.3 L498,222.3 L499,222.4 L500,222.4 L501,222.4 L502,222.4 L503,222.4 L504,222.4 L505,222.4 L506,222.4 L507,222.4 L508,222.4 L509,222.4 L510,222.4 L511,222.4 L512,222.4 L513,222.4 L514,222.5 L515,222.5 L516,222.5 L517,222.5 L518,222.5 L519,222.5 L520,222.5 L521,222.5 L522,222.5 L523,222.5 L524,222.5 L525,222.5" stroke="#ff1a1a" stroke-width="1.45" fill="none"/>
<path d="M61,333.7 L62,333.7 L63,333.7 L64,333.7 L65,333.7 L66,333.7 L67,333.7 L68,333.7 L69,333.7 L70,333.7 L71,333.7 L72,333.7 L73,333.7 L74,333.7 L75,333.7 L76,333.7 L77,333.7 L78,333.7 L79,333.7 L80,333.7 L81,333.7 L82,333.7 L83,333.7 L84,333.7 L85,333.7 L86,333.7 L87,333.7 L88,333.7 L89,333.7 L90,333.7 L91,333.7 L92,333.7 L93,333.7 L94,333.7 L95,333.7 L96,333.7 L97,333.7 L98,333.7 L99,333.7 L100,333.7 L101,333.7 L102,333.7 L103,333.7 L104,333.7 L105,333.7 L106,333.7 L107,333.7 L108,333.7 L109,333.7 L110,333.7 L111,333.7 L112,333.7 L113,333.7 L114,333.7 L115,333.7 L116,333.7 L117,333.7 L118,333.7 L119,333.7 L120,333.7 L121,333.8 L122,333.8 L123,333.8 L124,333.8 L125,333.8 L126,333.8 L127,333.8 L128,333.8 L129,333.8 L130,333.8 L131,333.8 L132,333.8 L133,333.8 L134,333.8 L135,333.8 L136,333.8 L137,333.8 L138,333.8 L139,333.8 L140,333.8 L141,333.8 L142,333.8 L143,333.8 L144,333.8 L145,333.8 L146,333.8 L147,333.8 L148,333.8 L149,333.8 L150,333.8 L151,333.8 L152,333.8 L153,333.8 L154,333.8 L155,333.8 L156,333.8 L157,333.8 L158,333.8 L159,333.8 L160,333.8 L161,333.8 L162,333.8 L163,333.8 L164,333.8 L165,333.8 L166,333.8 L167,333.8 L168,333.8 L169,333.8 L170,333.8 L171,333.8 L172,333.8 L173,333.8 L174,333.8 L175,333.8 L176,333.8 L177,333.8 L178,333.9 L179,333.9 L180,333.9 L181,333.9 L182,333.9 L183,333.9 L184,333.9 L185,333.9 L186,333.9 L187,333.9 L188,333.9 L189,333.9 L190,333.9 L191,333.9 L192,333.9 L193,333.9 L194,333.9 L195,333.9 L196,333.9 L197,333.9 L198,333.9 L199,333.9 L200,333.9 L201,333.9 L202,333.9 L203,333.9 L204,333.9 L205,333.9 L206,334.0 L207,334.0 L208,334.0 L209,334.0 L210,334.0 L211,334.0 L212,334.0 L213,334.0 L214,334.0 L215,334.0 L216,334.0 L217,334.0 L218,334.0 L219,334.0 L220,334.0 L221,334.0 L222,334.1 L223,334.1 L224,334.1 L225,334.1 L226,334.1 L227,334.1 L228,334.1 L229,334.1 L230,334.1 L231,334.1 L232,334.1 L233,334.2 L234,334.2 L235,334.2 L236,334.2 L237,334.2 L238,334.2 L239,334.2 L240,334.3 L241,334.3 L242,334.3 L243,334.3 L244,334.3 L245,334.3 L246,334.4 L247,334.4 L248,334.4 L249,334.4 L250,334.5 L251,334.5 L252,334.5 L253,334.5 L254,334.6 L255,334.6 L256,334.6 L257,334.7 L258,334.7 L259,334.8 L260,334.8 L261,334.8 L262,334.9 L263,334.9 L264,335.0 L265,335.1 L266,335.1 L267,335.2 L268,335.2 L269,335.3 L270,335.4 L271,335.4 L272,335.5 L273,335.6 L274,335.7 L275,335.8 L276,335.8 L277,335.9 L278,336.0 L279,336.1 L280,336.2 L281,336.3 L282,336.4 L283,336.4 L284,336.5 L285,336.6 L286,336.7 L287,336.8 L288,336.9 L289,336.9 L290,337.0 L291,337.1 L292,337.2 L293,337.2 L294,337.3 L295,337.4 L296,337.4 L297,337.5 L298,337.5 L299,337.6 L300,337.6 L301,337.7 L302,337.7 L303,337.8 L304,337.8 L305,337.8 L306,337.9 L307,337.9 L308,337.9 L309,338.0 L310,338.0 L311,338.0 L312,338.0 L313,338.1 L314,338.1 L315,338.1 L316,338.1 L317,338.2 L318,338.2 L319,338.2 L320,338.2 L321,338.2 L322,338.2 L323,338.3 L324,338.3 L325,338.3 L326,338.3 L327,338.3 L328,338.3 L329,338.3 L330,338.3 L331,338.4 L332,338.4 L333,338.4 L334,338.4 L335,338.4 L336,338.4 L337,338.4 L338,338.4 L339,338.4 L340,338.4 L341,338.4 L342,338.5 L343,338.5 L344,338.5 L345,338.5 L346,338.5 L347,338.5 L348,338.5 L349,338.5 L350,338.5 L351,338.5 L352,338.5 L353,338.5 L354,338.5 L355,338.5 L356,338.5 L357,338.5 L358,338.5 L359,338.5 L360,338.6 L361,338.6 L362,338.6 L363,338.6 L364,338.6 L365,338.6 L366,338.6 L367,338.6 L368,338.6 L369,338.6 L370,338.6 L371,338.6 L372,338.6 L373,338.6 L374,338.6 L375,338.6 L376,338.6 L377,338.6 L378,338.6 L379,338.6 L380,338.6 L381,338.6 L382,338.6 L383,338.6 L384,338.6 L385,338.6 L386,338.6 L387,338.6 L388,338.6 L389,338.6 L390,338.7 L391,338.7 L392,338.7 L393,338.7 L394,338.7 L395,338.7 L396,338.7 L397,338.7 L398,338.7 L399,338.7 L400,338.7 L401,338.7 L402,338.7 L403,338.7 L404,338.7 L405,338.7 L406,338.7 L407,338.7 L408,338.7 L409,338.7 L410,338.7 L411,338.7 L412,338.7 L413,338.7 L414,338.7 L415,338.7 L416,338.7 L417,338.7 L418,338.7 L419,338.7 L420,338.7 L421,338.7 L422,338.7 L423,338.7 L424,338.7 L425,338.7 L426,338.7 L427,338.7 L428,338.7 L429,338.7 L430,338.7 L431,338.7 L432,338.7 L433,338.7 L434,338.7 L435,338.7 L436,338.7 L437,338.7 L438,338.7 L439,338.7 L440,338.7 L441,338.7 L442,338.7 L443,338.7 L444,338.7 L445,338.7 L446,338.7 L447,338.7 L448,338.7 L449,338.7 L450,338.7 L451,338.7 L452,338.7 L453,338.7 L454,338.7 L455,338.8 L456,338.8 L457,338.8 L458,338.8 L459,338.8 L460,338.8 L461,338.8 L462,338.8 L463,338.8 L464,338.8 L465,338.8 L466,338.8 L467,338.8 L468,338.8 L469,338.8 L470,338.8 L471,338.8 L472,338.8 L473,338.8 L474,338.8 L475,338.8 L476,338.8 L477,338.8 L478,338.8 L479,338.8 L480,338.8 L481,338.8 L482,338.8 L483,338.8 L484,338.8 L485,338.8 L486,338.8 L487,338.8 L488,338.8 L489,338.8 L490,338.8 L491,338.8 L492,338.8 L493,338.8 L494,338.8 L495,338.8 L496,338.8 L497,338.8 L498,338.8 L499,338.8 L500,338.8 L501,338.8 L502,338.8 L503,338.8 L504,338.8 L505,338.8 L506,338.8 L507,338.8 L508,338.8 L509,338.8 L510,338.8 L511,338.8 L512,338.8 L513,338.8 L514,338.8 L515,338.8 L516,338.8 L517,338.8 L518,338.8 L519,338.8 L520,338.8 L521,338.8 L522,338.8 L523,338.8 L524,338.8 L525,338.8" stroke="#3f3fe0" stroke-width="1.4" fill="none"/>
<path d="M61,332.1 L62,332.0 L63,332.0 L64,332.0 L65,332.0 L66,332.0 L67,332.0 L68,332.0 L69,332.0 L70,332.0 L71,332.0 L72,332.0 L73,332.0 L74,332.0 L75,332.0 L76,332.0 L77,331.9 L78,331.9 L79,331.9 L80,331.9 L81,331.9 L82,331.9 L83,331.9 L84,331.9 L85,331.9 L86,331.9 L87,331.9 L88,331.9 L89,331.8 L90,331.8 L91,331.8 L92,331.8 L93,331.8 L94,331.8 L95,331.8 L96,331.8 L97,331.8 L98,331.8 L99,331.7 L100,331.7 L101,331.7 L102,331.7 L103,331.7 L104,331.7 L105,331.7 L106,331.7 L107,331.6 L108,331.6 L109,331.6 L110,331.6 L111,331.6 L112,331.6 L113,331.6 L114,331.6 L115,331.5 L116,331.5 L117,331.5 L118,331.5 L119,331.5 L120,331.5 L121,331.4 L122,331.4 L123,331.4 L124,331.4 L125,331.4 L126,331.4 L127,331.3 L128,331.3 L129,331.3 L130,331.3 L131,331.3 L132,331.2 L133,331.2 L134,331.2 L135,331.2 L136,331.2 L137,331.1 L138,331.1 L139,331.1 L140,331.1 L141,331.1 L142,331.0 L143,331.0 L144,331.0 L145,330.9 L146,330.9 L147,330.9 L148,330.9 L149,330.8 L150,330.8 L151,330.8 L152,330.8 L153,330.7 L154,330.7 L155,330.7 L156,330.6 L157,330.6 L158,330.6 L159,330.5 L160,330.5 L161,330.4 L162,330.4 L163,330.4 L164,330.3 L165,330.3 L166,330.2 L167,330.2 L168,330.1 L169,330.1 L170,330.1 L171,330.0 L172,330.0 L173,329.9 L174,329.9 L175,329.8 L176,329.7 L177,329.7 L178,329.6 L179,329.6 L180,329.5 L181,329.4 L182,329.4 L183,329.3 L184,329.2 L185,329.2 L186,329.1 L187,329.0 L188,328.9 L189,328.9 L190,328.8 L191,328.7 L192,328.6 L193,328.5 L194,328.4 L195,328.3 L196,328.2 L197,328.1 L198,328.0 L199,327.9 L200,327.8 L201,327.6 L202,327.5 L203,327.4 L204,327.2 L205,327.1 L206,327.0 L207,326.8 L208,326.7 L209,326.5 L210,326.3 L211,326.1 L212,326.0 L213,325.8 L214,325.6 L215,325.4 L216,325.1 L217,324.9 L218,324.7 L219,324.4 L220,324.2 L221,323.9 L222,323.6 L223,323.3 L224,323.0 L225,322.6 L226,322.2 L227,321.9 L228,321.5 L229,321.0 L230,320.6 L231,320.1 L232,319.6 L233,319.0 L234,318.4 L235,317.8 L236,317.1 L237,316.4 L238,315.6 L239,314.8 L240,313.9 L241,313.0 L242,312.0 L243,310.9 L244,309.8 L245,308.6 L246,307.3 L247,305.9 L248,304.4 L249,302.9 L250,301.2 L251,299.5 L252,297.6 L253,295.7 L254,293.6 L255,291.4 L256,289.1 L257,286.7 L258,284.2 L259,281.6 L260,278.8 L261,276.0 L262,273.1 L263,270.0 L264,266.9 L265,263.8 L266,260.6 L267,257.3 L268,254.1 L269,250.9 L270,247.8 L271,244.7 L272,241.8 L273,239.1 L274,236.7 L275,234.5 L276,232.6 L277,231.1 L278,230.0 L279,229.7 L280,229.7 L281,229.7 L282,230.0 L283,231.1 L284,232.6 L285,234.5 L286,236.7 L287,239.3 L288,242.0 L289,245.0 L290,248.1 L291,251.4 L292,254.7 L293,258.1 L294,261.4 L295,264.8 L296,268.1 L297,271.3 L298,274.5 L299,277.6 L300,280.5 L301,283.4 L302,286.1 L303,288.8 L304,291.3 L305,293.7 L306,296.0 L307,298.2 L308,300.3 L309,302.2 L310,304.1 L311,305.8 L312,307.5 L313,309.0 L314,310.5 L315,311.8 L316,313.1 L317,314.3 L318,315.5 L319,316.5 L320,317.5 L321,318.4 L322,319.3 L323,320.1 L324,320.9 L325,321.6 L326,322.3 L327,322.9 L328,323.5 L329,324.1 L330,324.6 L331,325.1 L332,325.5 L333,326.0 L334,326.4 L335,326.8 L336,327.1 L337,327.5 L338,327.8 L339,328.1 L340,328.4 L341,328.7 L342,329.0 L343,329.3 L344,329.5 L345,329.7 L346,330.0 L347,330.2 L348,330.4 L349,330.6 L350,330.8 L351,331.0 L352,331.1 L353,331.3 L354,331.5 L355,331.6 L356,331.8 L357,331.9 L358,332.1 L359,332.2 L360,332.3 L361,332.5 L362,332.6 L363,332.7 L364,332.8 L365,332.9 L366,333.0 L367,333.1 L368,333.2 L369,333.3 L370,333.4 L371,333.5 L372,333.6 L373,333.7 L374,333.8 L375,333.9 L376,333.9 L377,334.0 L378,334.1 L379,334.2 L380,334.2 L381,334.3 L382,334.4 L383,334.4 L384,334.5 L385,334.6 L386,334.6 L387,334.7 L388,334.7 L389,334.8 L390,334.9 L391,334.9 L392,335.0 L393,335.0 L394,335.1 L395,335.1 L396,335.2 L397,335.2 L398,335.2 L399,335.3 L400,335.3 L401,335.4 L402,335.4 L403,335.4 L404,335.5 L405,335.5 L406,335.6 L407,335.6 L408,335.6 L409,335.7 L410,335.7 L411,335.7 L412,335.8 L413,335.8 L414,335.8 L415,335.9 L416,335.9 L417,335.9 L418,335.9 L419,336.0 L420,336.0 L421,336.0 L422,336.1 L423,336.1 L424,336.1 L425,336.1 L426,336.1 L427,336.2 L428,336.2 L429,336.2 L430,336.2 L431,336.3 L432,336.3 L433,336.3 L434,336.3 L435,336.3 L436,336.4 L437,336.4 L438,336.4 L439,336.4 L440,336.4 L441,336.5 L442,336.5 L443,336.5 L444,336.5 L445,336.5 L446,336.5 L447,336.6 L448,336.6 L449,336.6 L450,336.6 L451,336.6 L452,336.6 L453,336.7 L454,336.7 L455,336.7 L456,336.7 L457,336.7 L458,336.7 L459,336.7 L460,336.8 L461,336.8 L462,336.8 L463,336.8 L464,336.8 L465,336.8 L466,336.8 L467,336.8 L468,336.8 L469,336.9 L470,336.9 L471,336.9 L472,336.9 L473,336.9 L474,336.9 L475,336.9 L476,336.9 L477,336.9 L478,337.0 L479,337.0 L480,337.0 L481,337.0 L482,337.0 L483,337.0 L484,337.0 L485,337.0 L486,337.0 L487,337.0 L488,337.0 L489,337.1 L490,337.1 L491,337.1 L492,337.1 L493,337.1 L494,337.1 L495,337.1 L496,337.1 L497,337.1 L498,337.1 L499,337.1 L500,337.1 L501,337.2 L502,337.2 L503,337.2 L504,337.2 L505,337.2 L506,337.2 L507,337.2 L508,337.2 L509,337.2 L510,337.2 L511,337.2 L512,337.2 L513,337.2 L514,337.2 L515,337.2 L516,337.2 L517,337.3 L518,337.3 L519,337.3 L520,337.3 L521,337.3 L522,337.3 L523,337.3 L524,337.3 L525,337.3" stroke="#ff1a1a" stroke-width="1.45" fill="none"/>
<path d="M61,333.6 L62,333.6 L63,333.6 L64,333.6 L65,333.6 L66,333.6 L67,333.6 L68,333.6 L69,333.6 L70,333.6 L71,333.6 L72,333.6 L73,333.6 L74,333.6 L75,333.6 L76,333.6 L77,333.6 L78,333.6 L79,333.6 L80,333.6 L81,333.6 L82,333.6 L83,333.6 L84,333.6 L85,333.6 L86,333.6 L87,333.6 L88,333.6 L89,333.6 L90,333.6 L91,333.6 L92,333.6 L93,333.6 L94,333.6 L95,333.6 L96,333.6 L97,333.6 L98,333.6 L99,333.6 L100,333.6 L101,333.6 L102,333.6 L103,333.6 L104,333.5 L105,333.5 L106,333.5 L107,333.5 L108,333.5 L109,333.5 L110,333.5 L111,333.5 L112,333.5 L113,333.4 L114,333.4 L115,333.4 L116,333.4 L117,333.4 L118,333.4 L119,333.3 L120,333.3 L121,333.3 L122,333.3 L123,333.2 L124,333.2 L125,333.2 L126,333.1 L127,333.1 L128,333.1 L129,333.0 L130,333.0 L131,333.0 L132,332.9 L133,332.9 L134,332.8 L135,332.8 L136,332.7 L137,332.7 L138,332.6 L139,332.5 L140,332.5 L141,332.4 L142,332.3 L143,332.3 L144,332.2 L145,332.1 L146,332.0 L147,331.9 L148,331.9 L149,331.8 L150,331.7 L151,331.6 L152,331.5 L153,331.4 L154,331.3 L155,331.2 L156,331.1 L157,330.9 L158,330.8 L159,330.7 L160,330.6 L161,330.5 L162,330.3 L163,330.2 L164,330.1 L165,330.0 L166,329.8 L167,329.7 L168,329.6 L169,329.4 L170,329.3 L171,329.1 L172,329.0 L173,328.9 L174,328.7 L175,328.6 L176,328.5 L177,328.3 L178,328.2 L179,328.1 L180,327.9 L181,327.8 L182,327.7 L183,327.5 L184,327.4 L185,327.3 L186,327.2 L187,327.1 L188,327.0 L189,326.9 L190,326.8 L191,326.7 L192,326.6 L193,326.5 L194,326.4 L195,326.3 L196,326.3 L197,326.2 L198,326.1 L199,326.1 L200,326.1 L201,326.0 L202,326.0 L203,326.0 L204,326.0 L205,326.0 L206,326.0 L207,326.0 L208,326.0 L209,326.0 L210,326.1 L211,326.1 L212,326.2 L213,326.3 L214,326.4 L215,326.5 L216,326.6 L217,326.7 L218,326.8 L219,327.0 L220,327.1 L221,327.3 L222,327.4 L223,327.6 L224,327.8 L225,327.9 L226,328.1 L227,328.3 L228,328.5 L229,328.7 L230,328.9 L231,329.1 L232,329.3 L233,329.4 L234,329.6 L235,329.8 L236,330.0 L237,330.2 L238,330.4 L239,330.6 L240,330.8 L241,330.9 L242,331.1 L243,331.3 L244,331.5 L245,331.6 L246,331.8 L247,332.0 L248,332.1 L249,332.3 L250,332.4 L251,332.6 L252,332.7 L253,332.8 L254,333.0 L255,333.1 L256,333.2 L257,333.4 L258,333.5 L259,333.6 L260,333.7 L261,333.8 L262,334.0 L263,334.1 L264,334.2 L265,334.3 L266,334.4 L267,334.5 L268,334.6 L269,334.7 L270,334.8 L271,335.0 L272,335.1 L273,335.2 L274,335.3 L275,335.4 L276,335.5 L277,335.6 L278,335.7 L279,335.8 L280,335.9 L281,336.0 L282,336.1 L283,336.2 L284,336.3 L285,336.4 L286,336.5 L287,336.6 L288,336.7 L289,336.8 L290,336.9 L291,337.0 L292,337.0 L293,337.1 L294,337.2 L295,337.2 L296,337.3 L297,337.4 L298,337.4 L299,337.5 L300,337.5 L301,337.6 L302,337.6 L303,337.7 L304,337.7 L305,337.8 L306,337.8 L307,337.8 L308,337.9 L309,337.9 L310,337.9 L311,338.0 L312,338.0 L313,338.0 L314,338.0 L315,338.1 L316,338.1 L317,338.1 L318,338.1 L319,338.1 L320,338.2 L321,338.2 L322,338.2 L323,338.2 L324,338.2 L325,338.2 L326,338.2 L327,338.3 L328,338.3 L329,338.3 L330,338.3 L331,338.3 L332,338.3 L333,338.3 L334,338.3 L335,338.4 L336,338.4 L337,338.4 L338,338.4 L339,338.4 L340,338.4 L341,338.4 L342,338.4 L343,338.4 L344,338.4 L345,338.4 L346,338.4 L347,338.4 L348,338.5 L349,338.5 L350,338.5 L351,338.5 L352,338.5 L353,338.5 L354,338.5 L355,338.5 L356,338.5 L357,338.5 L358,338.5 L359,338.5 L360,338.5 L361,338.5 L362,338.5 L363,338.5 L364,338.5 L365,338.5 L366,338.5 L367,338.6 L368,338.6 L369,338.6 L370,338.6 L371,338.6 L372,338.6 L373,338.6 L374,338.6 L375,338.6 L376,338.6 L377,338.6 L378,338.6 L379,338.6 L380,338.6 L381,338.6 L382,338.6 L383,338.6 L384,338.6 L385,338.6 L386,338.6 L387,338.6 L388,338.6 L389,338.6 L390,338.6 L391,338.6 L392,338.6 L393,338.6 L394,338.6 L395,338.6 L396,338.6 L397,338.6 L398,338.6 L399,338.7 L400,338.7 L401,338.7 L402,338.7 L403,338.7 L404,338.7 L405,338.7 L406,338.7 L407,338.7 L408,338.7 L409,338.7 L410,338.7 L411,338.7 L412,338.7 L413,338.7 L414,338.7 L415,338.7 L416,338.7 L417,338.7 L418,338.7 L419,338.7 L420,338.7 L421,338.7 L422,338.7 L423,338.7 L424,338.7 L425,338.7 L426,338.7 L427,338.7 L428,338.7 L429,338.7 L430,338.7 L431,338.7 L432,338.7 L433,338.7 L434,338.7 L435,338.7 L436,338.7 L437,338.7 L438,338.7 L439,338.7 L440,338.7 L441,338.7 L442,338.7 L443,338.7 L444,338.7 L445,338.7 L446,338.7 L447,338.7 L448,338.7 L449,338.7 L450,338.7 L451,338.7 L452,338.7 L453,338.7 L454,338.7 L455,338.7 L456,338.7 L457,338.7 L458,338.7 L459,338.7 L460,338.7 L461,338.7 L462,338.7 L463,338.7 L464,338.7 L465,338.7 L466,338.7 L467,338.8 L468,338.8 L469,338.8 L470,338.8 L471,338.8 L472,338.8 L473,338.8 L474,338.8 L475,338.8 L476,338.8 L477,338.8 L478,338.8 L479,338.8 L480,338.8 L481,338.8 L482,338.8 L483,338.8 L484,338.8 L485,338.8 L486,338.8 L487,338.8 L488,338.8 L489,338.8 L490,338.8 L491,338.8 L492,338.8 L493,338.8 L494,338.8 L495,338.8 L496,338.8 L497,338.8 L498,338.8 L499,338.8 L500,338.8 L501,338.8 L502,338.8 L503,338.8 L504,338.8 L505,338.8 L506,338.8 L507,338.8 L508,338.8 L509,338.8 L510,338.8 L511,338.8 L512,338.8 L513,338.8 L514,338.8 L515,338.8 L516,338.8 L517,338.8 L518,338.8 L519,338.8 L520,338.8 L521,338.8 L522,338.8 L523,338.8 L524,338.8 L525,338.8" stroke="#0ba33a" stroke-width="1.5" fill="none"/>
<path d="M61,332.0 L62,332.0 L63,332.0 L64,332.0 L65,332.0 L66,332.0 L67,332.0 L68,332.0 L69,332.0 L70,331.9 L71,331.9 L72,331.9 L73,331.9 L74,331.9 L75,331.9 L76,331.9 L77,331.9 L78,331.9 L79,331.9 L80,331.9 L81,331.9 L82,331.8 L83,331.8 L84,331.8 L85,331.8 L86,331.8 L87,331.8 L88,331.8 L89,331.8 L90,331.8 L91,331.7 L92,331.7 L93,331.7 L94,331.7 L95,331.7 L96,331.7 L97,331.7 L98,331.6 L99,331.6 L100,331.6 L101,331.6 L102,331.6 L103,331.6 L104,331.5 L105,331.5 L106,331.5 L107,331.5 L108,331.5 L109,331.4 L110,331.4 L111,331.4 L112,331.4 L113,331.4 L114,331.3 L115,331.3 L116,331.3 L117,331.2 L118,331.2 L119,331.2 L120,331.2 L121,331.1 L122,331.1 L123,331.0 L124,331.0 L125,331.0 L126,330.9 L127,330.9 L128,330.8 L129,330.8 L130,330.7 L131,330.7 L132,330.6 L133,330.6 L134,330.5 L135,330.5 L136,330.4 L137,330.3 L138,330.3 L139,330.2 L140,330.1 L141,330.1 L142,330.0 L143,329.9 L144,329.8 L145,329.7 L146,329.7 L147,329.6 L148,329.5 L149,329.4 L150,329.3 L151,329.2 L152,329.1 L153,329.0 L154,328.9 L155,328.8 L156,328.6 L157,328.5 L158,328.4 L159,328.3 L160,328.2 L161,328.0 L162,327.9 L163,327.8 L164,327.6 L165,327.5 L166,327.4 L167,327.2 L168,327.1 L169,326.9 L170,326.8 L171,326.6 L172,326.5 L173,326.3 L174,326.2 L175,326.0 L176,325.9 L177,325.7 L178,325.5 L179,325.4 L180,325.2 L181,325.1 L182,324.9 L183,324.8 L184,324.6 L185,324.4 L186,324.3 L187,324.1 L188,323.9 L189,323.8 L190,323.6 L191,323.5 L192,323.3 L193,323.2 L194,323.0 L195,322.8 L196,322.7 L197,322.5 L198,322.4 L199,322.2 L200,322.1 L201,321.9 L202,321.8 L203,321.6 L204,321.5 L205,321.3 L206,321.2 L207,321.0 L208,320.9 L209,320.8 L210,320.6 L211,320.5 L212,320.3 L213,320.2 L214,320.0 L215,319.9 L216,319.7 L217,319.5 L218,319.4 L219,319.2 L220,319.0 L221,318.8 L222,318.5 L223,318.3 L224,318.0 L225,317.8 L226,317.4 L227,317.1 L228,316.7 L229,316.4 L230,315.9 L231,315.5 L232,315.0 L233,314.4 L234,313.8 L235,313.2 L236,312.6 L237,311.8 L238,311.1 L239,310.3 L240,309.4 L241,308.5 L242,307.5 L243,306.4 L244,305.3 L245,304.2 L246,302.9 L247,301.6 L248,300.2 L249,298.7 L250,297.2 L251,295.5 L252,293.8 L253,292.0 L254,290.0 L255,288.0 L256,285.9 L257,283.8 L258,281.5 L259,279.1 L260,276.6 L261,274.0 L262,271.3 L263,268.4 L264,265.5 L265,262.5 L266,259.5 L267,256.4 L268,253.2 L269,250.2 L270,247.1 L271,244.2 L272,241.3 L273,238.7 L274,236.3 L275,234.1 L276,232.3 L277,230.8 L278,229.8 L279,229.5 L280,229.5 L281,229.5 L282,229.8 L283,230.9 L284,232.5 L285,234.4 L286,236.6 L287,239.1 L288,241.9 L289,244.9 L290,248.0 L291,251.3 L292,254.6 L293,258.0 L294,261.4 L295,264.7 L296,268.0 L297,271.2 L298,274.4 L299,277.5 L300,280.5 L301,283.3 L302,286.1 L303,288.7 L304,291.3 L305,293.7 L306,296.0 L307,298.1 L308,300.2 L309,302.2 L310,304.0 L311,305.8 L312,307.4 L313,309.0 L314,310.4 L315,311.8 L316,313.1 L317,314.3 L318,315.4 L319,316.5 L320,317.5 L321,318.4 L322,319.3 L323,320.1 L324,320.9 L325,321.6 L326,322.2 L327,322.9 L328,323.5 L329,324.0 L330,324.5 L331,325.0 L332,325.5 L333,325.9 L334,326.4 L335,326.7 L336,327.1 L337,327.5 L338,327.8 L339,328.1 L340,328.4 L341,328.7 L342,329.0 L343,329.2 L344,329.5 L345,329.7 L346,329.9 L347,330.2 L348,330.4 L349,330.6 L350,330.8 L351,330.9 L352,331.1 L353,331.3 L354,331.4 L355,331.6 L356,331.8 L357,331.9 L358,332.0 L359,332.2 L360,332.3 L361,332.4 L362,332.6 L363,332.7 L364,332.8 L365,332.9 L366,333.0 L367,333.1 L368,333.2 L369,333.3 L370,333.4 L371,333.5 L372,333.6 L373,333.7 L374,333.8 L375,333.9 L376,333.9 L377,334.0 L378,334.1 L379,334.2 L380,334.2 L381,334.3 L382,334.4 L383,334.4 L384,334.5 L385,334.6 L386,334.6 L387,334.7 L388,334.7 L389,334.8 L390,334.8 L391,334.9 L392,334.9 L393,335.0 L394,335.0 L395,335.1 L396,335.1 L397,335.2 L398,335.2 L399,335.3 L400,335.3 L401,335.4 L402,335.4 L403,335.4 L404,335.5 L405,335.5 L406,335.5 L407,335.6 L408,335.6 L409,335.7 L410,335.7 L411,335.7 L412,335.8 L413,335.8 L414,335.8 L415,335.8 L416,335.9 L417,335.9 L418,335.9 L419,336.0 L420,336.0 L421,336.0 L422,336.0 L423,336.1 L424,336.1 L425,336.1 L426,336.1 L427,336.2 L428,336.2 L429,336.2 L430,336.2 L431,336.3 L432,336.3 L433,336.3 L434,336.3 L435,336.3 L436,336.4 L437,336.4 L438,336.4 L439,336.4 L440,336.4 L441,336.5 L442,336.5 L443,336.5 L444,336.5 L445,336.5 L446,336.5 L447,336.6 L448,336.6 L449,336.6 L450,336.6 L451,336.6 L452,336.6 L453,336.6 L454,336.7 L455,336.7 L456,336.7 L457,336.7 L458,336.7 L459,336.7 L460,336.7 L461,336.8 L462,336.8 L463,336.8 L464,336.8 L465,336.8 L466,336.8 L467,336.8 L468,336.8 L469,336.9 L470,336.9 L471,336.9 L472,336.9 L473,336.9 L474,336.9 L475,336.9 L476,336.9 L477,336.9 L478,336.9 L479,337.0 L480,337.0 L481,337.0 L482,337.0 L483,337.0 L484,337.0 L485,337.0 L486,337.0 L487,337.0 L488,337.0 L489,337.0 L490,337.1 L491,337.1 L492,337.1 L493,337.1 L494,337.1 L495,337.1 L496,337.1 L497,337.1 L498,337.1 L499,337.1 L500,337.1 L501,337.1 L502,337.2 L503,337.2 L504,337.2 L505,337.2 L506,337.2 L507,337.2 L508,337.2 L509,337.2 L510,337.2 L511,337.2 L512,337.2 L513,337.2 L514,337.2 L515,337.2 L516,337.2 L517,337.2 L518,337.3 L519,337.3 L520,337.3 L521,337.3 L522,337.3 L523,337.3 L524,337.3 L525,337.3" stroke="#222" stroke-width="1.4" fill="none"/>
<path d="M61,331.0 L62,330.6 L63,330.8 L64,330.8 L65,331.6 L66,331.8 L67,331.5 L68,331.2 L69,330.7 L70,331.5 L71,331.9 L72,331.8 L73,331.5 L74,331.2 L75,331.0 L76,331.0 L77,330.4 L78,330.9 L79,331.0 L80,331.3 L81,331.2 L82,330.6 L83,330.2 L84,330.3 L85,330.8 L86,331.2 L87,331.0 L88,331.2 L89,331.1 L90,331.4 L91,331.4 L92,331.5 L93,331.2 L94,330.6 L95,330.4 L96,330.6 L97,330.7 L98,331.0 L99,330.5 L100,330.4 L101,330.1 L102,331.0 L103,330.8 L104,331.0 L105,330.2 L106,330.0 L107,329.8 L108,330.2 L109,330.3 L110,330.0 L111,329.5 L112,330.3 L113,330.5 L114,330.5 L115,330.2 L116,329.7 L117,330.2 L118,330.2 L119,330.4 L120,330.7 L121,330.3 L122,330.5 L123,330.5 L124,331.1 L125,331.1 L126,331.0 L127,331.0 L128,330.8 L129,330.5 L130,329.9 L131,330.3 L132,330.6 L133,330.1 L134,330.0 L135,329.5 L136,329.6 L137,329.0 L138,328.8 L139,329.1 L140,329.1 L141,329.0 L142,328.1 L143,328.2 L144,327.9 L145,328.3 L146,328.0 L147,328.8 L148,328.4 L149,328.2 L150,327.6 L151,328.0 L152,328.1 L153,327.5 L154,327.3 L155,327.5 L156,328.8 L157,328.5 L158,328.0 L159,326.9 L160,326.9 L161,326.2 L162,326.5 L163,326.5 L164,327.3 L165,326.9 L166,326.9 L167,326.3 L168,326.2 L169,325.5 L170,326.2 L171,326.0 L172,326.1 L173,325.9 L174,325.5 L175,325.5 L176,325.4 L177,325.1 L178,324.9 L179,324.9 L180,324.9 L181,324.8 L182,324.4 L183,323.7 L184,323.3 L185,322.9 L186,323.5 L187,323.0 L188,323.1 L189,323.2 L190,323.0 L191,322.7 L192,322.1 L193,322.1 L194,321.8 L195,321.8 L196,321.6 L197,321.8 L198,321.4 L199,321.7 L200,321.7 L201,321.9 L202,321.5 L203,320.9 L204,320.3 L205,320.5 L206,320.6 L207,320.8 L208,319.9 L209,318.9 L210,318.8 L211,319.2 L212,319.8 L213,319.9 L214,319.5 L215,318.9 L216,318.6 L217,318.4 L218,318.4 L219,317.8 L220,317.3 L221,317.0 L222,316.8 L223,317.3 L224,317.4 L225,317.3 L226,316.7 L227,316.1 L228,315.3 L229,314.8 L230,314.6 L231,315.0 L232,314.7 L233,313.3 L234,311.8 L235,311.3 L236,311.4 L237,311.4 L238,311.1 L239,309.8 L240,308.4 L241,307.4 L242,306.5 L243,305.2 L244,303.7 L245,302.8 L246,300.8 L247,298.8 L248,296.7 L249,294.4 L250,292.1 L251,289.7 L252,287.2 L253,284.7 L254,282.0 L255,279.3 L256,276.6 L257,273.8 L258,271.0 L259,268.2 L260,265.4 L261,262.6 L262,259.8 L263,257.0 L264,254.3 L265,251.6 L266,249.1 L267,246.6 L268,244.2 L269,241.9 L270,239.8 L271,237.9 L272,236.1 L273,234.4 L274,233.0 L275,231.7 L276,230.7 L277,229.8 L278,229.2 L279,228.7 L280,228.4 L281,228.8 L282,229.2 L283,229.8 L284,230.8 L285,232.0 L286,233.4 L287,235.1 L288,237.1 L289,239.3 L290,241.6 L291,244.2 L292,246.9 L293,249.7 L294,252.7 L295,255.8 L296,258.9 L297,262.1 L298,265.4 L299,268.6 L300,271.9 L301,275.1 L302,278.4 L303,281.6 L304,284.7 L305,287.8 L306,290.8 L307,293.7 L308,296.5 L309,299.2 L310,301.8 L311,304.3 L312,306.7 L313,309.0 L314,311.1 L315,313.1 L316,315.0 L317,316.8 L318,318.5 L319,320.1 L320,321.5 L321,322.9 L322,324.1 L323,325.3 L324,326.3 L325,327.3 L326,328.2 L327,329.0 L328,329.8 L329,330.4 L330,331.0 L331,331.6 L332,332.1 L333,332.5 L334,332.9 L335,333.3 L336,333.6 L337,333.9 L338,334.2 L339,334.4 L340,334.6 L341,334.8 L342,335.0 L343,335.1 L344,335.3 L345,335.4 L346,335.5 L347,335.6 L348,335.7 L349,335.8 L350,335.9 L351,335.9 L352,336.0 L353,336.0 L354,336.1 L355,336.1 L356,336.2 L357,336.2 L358,336.3 L359,336.3 L360,336.3 L361,336.4 L362,336.4 L363,336.4 L364,336.4 L365,336.5 L366,336.5 L367,336.5 L368,336.5 L369,336.6 L370,336.6 L371,336.6 L372,336.6 L373,336.6 L374,336.7 L375,336.7 L376,336.7 L377,336.7 L378,336.7 L379,336.7 L380,336.8 L381,336.8 L382,336.8 L383,336.8 L384,336.8 L385,336.8 L386,336.8 L387,336.9 L388,336.9 L389,336.9 L390,336.9 L391,336.9 L392,336.9 L393,336.9 L394,336.9 L395,337.0 L396,337.0 L397,337.0 L398,337.0 L399,337.0 L400,337.0 L401,337.0 L402,337.0 L403,337.0 L404,337.0 L405,337.0 L406,337.1 L407,337.1 L408,337.1 L409,337.1 L410,337.1 L411,337.1 L412,337.1 L413,337.1 L414,337.1 L415,337.1 L416,337.1 L417,337.1 L418,337.1 L419,337.2 L420,337.2 L421,337.2 L422,337.2 L423,337.2 L424,337.2 L425,337.2 L426,337.2 L427,337.2 L428,337.2 L429,337.2 L430,337.2 L431,337.2 L432,337.2 L433,337.2 L434,337.2 L435,337.2 L436,337.2 L437,337.3 L438,337.3 L439,337.3 L440,337.3 L441,337.3 L442,337.3 L443,337.3 L444,337.3 L445,337.3 L446,337.3 L447,337.3 L448,337.3 L449,337.3 L450,337.3 L451,337.3 L452,337.3 L453,337.3 L454,337.3 L455,337.3 L456,337.3 L457,337.3 L458,337.3 L459,337.3 L460,337.3 L461,337.3 L462,337.3 L463,337.3 L464,337.4 L465,337.4 L466,337.4 L467,337.4 L468,337.4 L469,337.4 L470,337.4 L471,337.4 L472,337.4 L473,337.4 L474,337.4 L475,337.4 L476,337.4 L477,337.4 L478,337.4 L479,337.4 L480,337.4 L481,337.4 L482,337.4 L483,337.4 L484,337.4 L485,337.4 L486,337.4 L487,337.4 L488,337.4 L489,337.4 L490,337.4 L491,337.4 L492,337.4 L493,337.4 L494,337.4 L495,337.4 L496,337.4 L497,337.4 L498,337.4 L499,337.4 L500,337.4 L501,337.4 L502,337.4 L503,337.4 L504,337.4 L505,337.4 L506,337.5 L507,337.5 L508,337.5 L509,337.5 L510,337.5 L511,337.5 L512,337.5 L513,337.5 L514,337.5 L515,337.5 L516,337.5 L517,337.5 L518,337.5 L519,337.5 L520,337.5 L521,337.5 L522,337.5 L523,337.5 L524,337.5 L525,337.5" stroke="#333" stroke-width="1.9" stroke-linecap="round" stroke-dasharray="0 5.2" fill="none"/>
<path d="M231,320.1 L232,319.6 L233,319.0 L234,318.4 L235,317.8 L236,317.1 L237,316.4 L238,315.6 L239,314.8 L240,313.9 L241,313.0 L242,312.0 L243,310.9 L244,309.8 L245,308.6 L246,307.3 L247,305.9 L248,304.4 L249,302.9 L250,301.2 L251,299.5 L252,297.6 L253,295.7 L254,293.6 L255,291.4 L256,289.1 L257,286.7 L258,284.2 L259,281.6 L260,278.8 L261,276.0 L262,273.1 L263,270.0 L264,266.9 L265,263.8 L266,260.6 L267,257.3 L268,254.1 L269,250.9 L270,247.8 L271,244.7 L272,241.8 L273,239.1 L274,236.7 L275,234.5 L276,232.6 L277,231.1 L278,230.0 L279,229.7 L280,229.7 L281,229.7 L282,230.0 L283,231.1 L284,232.6 L285,234.5 L286,236.7 L287,239.3 L288,242.0 L289,245.0 L290,248.1 L291,251.4 L292,254.7 L293,258.1 L294,261.4 L295,264.8 L296,268.1 L297,271.3 L298,274.5 L299,277.6 L300,280.5 L301,283.4 L302,286.1 L303,288.8 L304,291.3 L305,293.7 L306,296.0 L307,298.2 L308,300.3 L309,302.2 L310,304.1 L311,305.8 L312,307.5 L313,309.0 L314,310.5 L315,311.8 L316,313.1 L317,314.3 L318,315.5 L319,316.5 L320,317.5 L321,318.4 L322,319.3 L323,320.1 L324,320.9 L325,321.6 L326,322.3 L327,322.9 L328,323.5 L329,324.1 L330,324.6 L331,325.1 L332,325.5 L333,326.0 L334,326.4 L335,326.8 L336,327.1 L337,327.5 L338,327.8 L339,328.1 L340,328.4 L341,328.7 L342,329.0 L343,329.3 L344,329.5 L345,329.7 L346,330.0 L347,330.2 L348,330.4 L349,330.6 L350,330.8 L351,331.0 L352,331.1 L353,331.3 L354,331.5 L355,331.6 L356,331.8 L357,331.9 L358,332.1 L359,332.2 L360,332.3 L361,332.5 L362,332.6 L363,332.7 L364,332.8 L365,332.9 L366,333.0 L367,333.1 L368,333.2 L369,333.3 L370,333.4 L371,333.5 L372,333.6 L373,333.7 L374,333.8 L375,333.9 L376,333.9 L377,334.0 L378,334.1 L379,334.2 L380,334.2 L381,334.3 L382,334.4 L383,334.4 L384,334.5 L385,334.6 L386,334.6 L387,334.7 L388,334.7 L389,334.8 L390,334.9 L391,334.9 L392,335.0 L393,335.0 L394,335.1 L395,335.1 L396,335.2 L397,335.2 L398,335.2 L399,335.3 L400,335.3 L401,335.4 L402,335.4 L403,335.4 L404,335.5 L405,335.5 L406,335.6 L407,335.6 L408,335.6 L409,335.7 L410,335.7 L411,335.7 L412,335.8 L413,335.8 L414,335.8 L415,335.9 L416,335.9 L417,335.9 L418,335.9 L419,336.0 L420,336.0 L421,336.0 L422,336.1 L423,336.1 L424,336.1 L425,336.1 L426,336.1 L427,336.2 L428,336.2 L429,336.2 L430,336.2 L431,336.3 L432,336.3 L433,336.3 L434,336.3 L435,336.3 L436,336.4 L437,336.4 L438,336.4 L439,336.4 L440,336.4 L441,336.5 L442,336.5 L443,336.5 L444,336.5 L445,336.5 L446,336.5 L447,336.6 L448,336.6 L449,336.6 L450,336.6 L451,336.6 L452,336.6 L453,336.7 L454,336.7 L455,336.7 L456,336.7 L457,336.7 L458,336.7 L459,336.7 L460,336.8 L461,336.8 L462,336.8 L463,336.8 L464,336.8 L465,336.8 L466,336.8 L467,336.8 L468,336.8 L469,336.9 L470,336.9 L471,336.9 L472,336.9 L473,336.9 L474,336.9 L475,336.9 L476,336.9 L477,336.9 L478,337.0 L479,337.0 L480,337.0 L481,337.0 L482,337.0 L483,337.0 L484,337.0 L485,337.0 L486,337.0 L487,337.0 L488,337.0 L489,337.1 L490,337.1 L491,337.1 L492,337.1 L493,337.1 L494,337.1 L495,337.1 L496,337.1 L497,337.1 L498,337.1 L499,337.1 L500,337.1 L501,337.2 L502,337.2 L503,337.2 L504,337.2 L505,337.2 L506,337.2 L507,337.2 L508,337.2 L509,337.2 L510,337.2 L511,337.2 L512,337.2 L513,337.2 L514,337.2 L515,337.2 L516,337.2 L517,337.3 L518,337.3 L519,337.3 L520,337.3 L521,337.3 L522,337.3 L523,337.3 L524,337.3 L525,337.3" stroke="#ff1a1a" stroke-width="1.45" fill="none"/>

<line x1="161.1" y1="53.6" x2="161.1" y2="156.5" stroke="#333" stroke-width="1.9" stroke-linecap="round" stroke-dasharray="0 5.12"/>
<line x1="204.6" y1="23.2" x2="204.6" y2="161.5" stroke="#333" stroke-width="1.9" stroke-linecap="round" stroke-dasharray="0 5.12"/>
<line x1="280.7" y1="20.3" x2="280.7" y2="97.2" stroke="#333" stroke-width="1.9" stroke-linecap="round" stroke-dasharray="0 5.12"/>

<path d="M60.8,11.9 H525.9 V354.3 H60.8 Z" fill="none" stroke="#0a0a0a" stroke-width="1.9"/>
<line x1="492.4" y1="354" x2="492.4" y2="350.3" stroke="#000" stroke-width="1.6"/><line x1="459.1" y1="354" x2="459.1" y2="347.3" stroke="#000" stroke-width="1.6"/><line x1="425.9" y1="354" x2="425.9" y2="350.3" stroke="#000" stroke-width="1.6"/><line x1="392.7" y1="354" x2="392.7" y2="347.3" stroke="#000" stroke-width="1.6"/><line x1="359.5" y1="354" x2="359.5" y2="350.3" stroke="#000" stroke-width="1.6"/><line x1="326.3" y1="354" x2="326.3" y2="347.3" stroke="#000" stroke-width="1.6"/><line x1="293.0" y1="354" x2="293.0" y2="350.3" stroke="#000" stroke-width="1.6"/><line x1="259.8" y1="354" x2="259.8" y2="347.3" stroke="#000" stroke-width="1.6"/><line x1="226.6" y1="354" x2="226.6" y2="350.3" stroke="#000" stroke-width="1.6"/><line x1="193.4" y1="354" x2="193.4" y2="347.3" stroke="#000" stroke-width="1.6"/><line x1="160.2" y1="354" x2="160.2" y2="350.3" stroke="#000" stroke-width="1.6"/><line x1="126.9" y1="354" x2="126.9" y2="347.3" stroke="#000" stroke-width="1.6"/><line x1="93.7" y1="354" x2="93.7" y2="350.3" stroke="#000" stroke-width="1.6"/>
<text x="525.6" y="378.1" text-anchor="middle" font-size="22">522</text><text x="459.1" y="378.1" text-anchor="middle" font-size="22">524</text><text x="392.7" y="378.1" text-anchor="middle" font-size="22">526</text><text x="326.3" y="378.1" text-anchor="middle" font-size="22">528</text><text x="259.8" y="378.1" text-anchor="middle" font-size="22">530</text><text x="193.4" y="378.1" text-anchor="middle" font-size="22">532</text><text x="126.9" y="378.1" text-anchor="middle" font-size="22">534</text><text x="60.5" y="378.1" text-anchor="middle" font-size="22">536</text>

<text x="485.4" y="30.4" font-size="17">O</text><text x="512.8" y="30.4" font-size="17">s</text>
<path d="M508.85,18.4 V30.2" stroke="#111" stroke-width="1.75" fill="none"/><path d="M508.5,18.9 Q507.2,20.9 504.8,21.9" stroke="#111" stroke-width="1.45" fill="none"/>
<text x="301.6" y="35.9" font-size="12.2" style="stroke-width:0.12px">529.45</text>
<text x="299.4" y="139" font-size="12.2" style="stroke-width:0.12px">529.43</text>
<text x="302" y="249.9" font-size="12.2" style="stroke-width:0.12px">529.38</text>
<text x="249.2" y="31.7" font-size="17.4">O</text><text x="262.4" y="38" font-size="10.1">L</text>
<text x="180" y="35.8" font-size="17.4">O</text><text x="193.4" y="42.0" font-size="10.3">v</text>
<text x="137.2" y="66.5" font-size="17.4">O</text><text x="150.3" y="72.6" font-size="10.3">c</text>

<text x="376.3" y="103.8" font-size="22">TiO</text><text x="410.8" y="110.2" font-size="11">2</text>
<text x="417.3" y="103.8" font-size="22">-Pt</text><text x="444.6" y="92" font-size="11.8">0</text>
<text x="474.5" y="103.8" font-size="22" text-anchor="end">-A</text>

<text x="369.5" y="202.3" font-size="22">TiO</text><text x="404" y="209.1" font-size="11">2</text>
<text x="410.7" y="202.3" font-size="22">-Pt</text><text x="438.4" y="190.4" font-size="11.8">4+</text>
<text x="475" y="202.3" font-size="22" text-anchor="end">-A</text>

<text x="371" y="323.5" font-size="22">TiO</text><text x="405.5" y="330.9" font-size="11">2</text>
<text x="411.4" y="323.5" font-size="22" letter-spacing="-0.25">-PtCl</text><text x="459.8" y="332.4" font-size="11.3">6</text>
<text x="466.8" y="312.6" font-size="11.5">2-</text>
<text x="497.6" y="323.5" font-size="22" text-anchor="end">-A</text>

<text transform="translate(26.3,198.3) rotate(-90)" text-anchor="middle" font-size="24.85">Intensity (a.u.)</text>
<text x="293.2" y="416.8" text-anchor="middle" font-size="24.8">Binding energy (eV)</text>

</svg>
</body></html>
